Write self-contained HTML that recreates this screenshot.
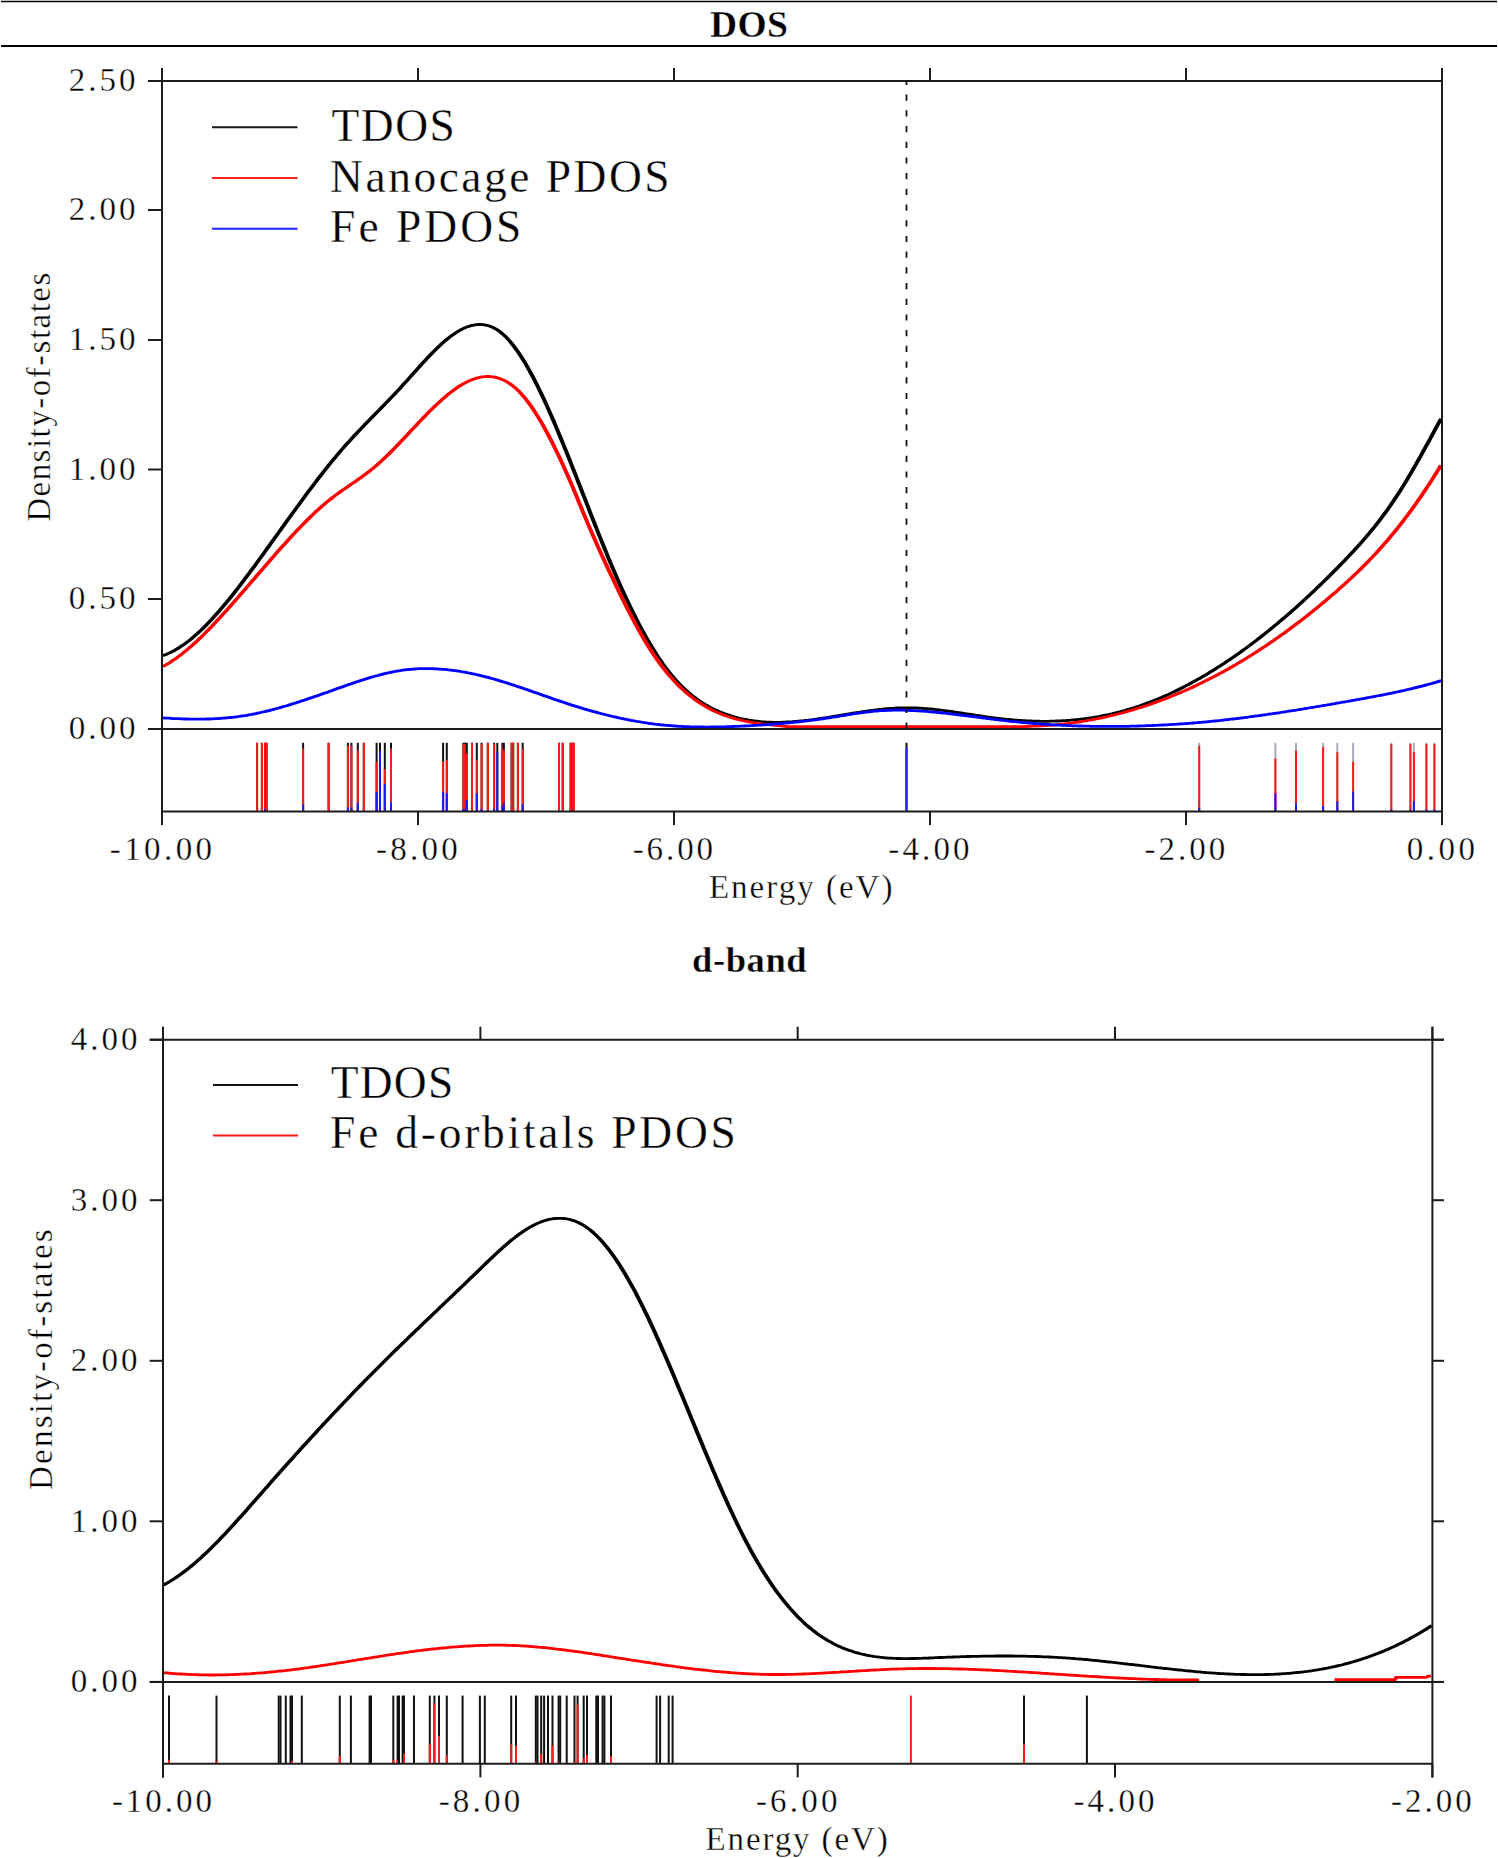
<!DOCTYPE html>
<html><head><meta charset="utf-8"><style>
html,body{margin:0;padding:0;background:#fff;}
body{width:1498px;height:1858px;position:relative;overflow:hidden;font-family:"Liberation Serif",serif;}
text{font-family:"Liberation Serif",serif;stroke:#fff;stroke-width:0.35px;paint-order:fill;}
</style></head><body>
<svg width="1498" height="1858" viewBox="0 0 1498 1858" style="position:absolute;left:0;top:0" font-family="'Liberation Serif', serif">
<line x1="1.00" y1="1.50" x2="1497.00" y2="1.50" stroke="#000" stroke-width="1.30"/>
<line x1="1.00" y1="46.00" x2="1497.00" y2="46.00" stroke="#000" stroke-width="2.20"/>
<text x="710.10" y="36.80" font-size="37.50" font-weight="bold" letter-spacing="0.275" fill="#000">DOS</text>
<text x="692.10" y="971.70" font-size="36.50" font-weight="bold" letter-spacing="0.581" fill="#000">d-band</text>
<g fill="none" stroke-width="2.80" stroke-linejoin="round" stroke-linecap="butt" transform="scale(1.450,1)">
<path d="M112.21,655.7 L113.59,654.9 L114.97,654.2 L116.34,653.3 L117.72,652.4 L119.10,651.4 L120.48,650.3 L121.86,649.1 L123.24,647.9 L124.62,646.6 L126.00,645.3 L127.38,643.9 L128.76,642.4 L130.14,640.9 L131.52,639.3 L132.90,637.6 L134.28,635.9 L135.66,634.2 L137.03,632.3 L138.41,630.5 L139.79,628.6 L141.17,626.6 L142.55,624.6 L143.93,622.5 L145.31,620.4 L146.69,618.3 L148.07,616.1 L149.45,613.8 L150.83,611.6 L152.21,609.3 L153.59,606.9 L154.97,604.5 L156.34,602.1 L157.72,599.7 L159.10,597.2 L160.48,594.7 L161.86,592.2 L163.24,589.6 L164.62,587.1 L166.00,584.5 L167.38,581.8 L168.76,579.2 L170.14,576.5 L171.52,573.9 L172.90,571.2 L174.28,568.5 L175.66,565.8 L177.03,563.0 L178.41,560.3 L179.79,557.5 L181.17,554.8 L182.55,552.0 L183.93,549.2 L185.31,546.5 L186.69,543.7 L188.07,540.9 L189.45,538.1 L190.83,535.3 L192.21,532.5 L193.59,529.7 L194.97,526.9 L196.34,524.2 L197.72,521.4 L199.10,518.6 L200.48,515.8 L201.86,513.0 L203.24,510.3 L204.62,507.5 L206.00,504.8 L207.38,502.1 L208.76,499.3 L210.14,496.6 L211.52,493.9 L212.90,491.2 L214.28,488.6 L215.66,485.9 L217.03,483.3 L218.41,480.6 L219.79,478.0 L221.17,475.5 L222.55,472.9 L223.93,470.4 L225.31,467.8 L226.69,465.3 L228.07,462.9 L229.45,460.4 L230.83,458.0 L232.21,455.6 L233.59,453.2 L234.97,450.9 L236.34,448.6 L237.72,446.3 L239.10,444.1 L240.48,441.9 L241.86,439.7 L243.24,437.5 L244.62,435.3 L246.00,433.2 L247.38,431.1 L248.76,429.0 L250.14,426.9 L251.52,424.8 L252.90,422.7 L254.28,420.7 L255.66,418.6 L257.03,416.6 L258.41,414.5 L259.79,412.5 L261.17,410.5 L262.55,408.4 L263.93,406.4 L265.31,404.3 L266.69,402.3 L268.07,400.2 L269.45,398.1 L270.83,396.0 L272.21,393.9 L273.59,391.8 L274.97,389.7 L276.34,387.5 L277.72,385.3 L279.10,383.1 L280.48,380.9 L281.86,378.7 L283.24,376.4 L284.62,374.2 L286.00,372.0 L287.38,369.7 L288.76,367.5 L290.14,365.3 L291.52,363.1 L292.90,360.9 L294.28,358.8 L295.66,356.6 L297.03,354.6 L298.41,352.5 L299.79,350.5 L301.17,348.5 L302.55,346.6 L303.93,344.7 L305.31,342.9 L306.69,341.2 L308.07,339.5 L309.45,337.9 L310.83,336.3 L312.21,334.9 L313.59,333.5 L314.97,332.2 L316.34,331.0 L317.72,329.9 L319.10,328.8 L320.48,327.9 L321.86,327.1 L323.24,326.4 L324.62,325.7 L326.00,325.3 L327.38,324.9 L328.76,324.6 L330.14,324.5 L331.52,324.5 L332.90,324.6 L334.28,324.9 L335.66,325.3 L337.03,325.8 L338.41,326.5 L339.79,327.4 L341.17,328.4 L342.55,329.5 L343.93,330.8 L345.31,332.3 L346.69,334.0 L348.07,335.8 L349.45,337.8 L350.83,339.9 L352.21,342.2 L353.59,344.7 L354.97,347.3 L356.34,350.0 L357.72,352.9 L359.10,355.9 L360.48,359.1 L361.86,362.3 L363.24,365.7 L364.62,369.2 L366.00,372.9 L367.38,376.6 L368.76,380.4 L370.14,384.4 L371.52,388.4 L372.90,392.5 L374.28,396.7 L375.66,401.0 L377.03,405.4 L378.41,409.9 L379.79,414.4 L381.17,419.0 L382.55,423.6 L383.93,428.4 L385.31,433.1 L386.69,438.0 L388.07,442.8 L389.45,447.8 L390.83,452.7 L392.21,457.7 L393.59,462.7 L394.97,467.8 L396.34,472.9 L397.72,478.0 L399.10,483.1 L400.48,488.2 L401.86,493.3 L403.24,498.4 L404.62,503.5 L406.00,508.7 L407.38,513.8 L408.76,518.9 L410.14,523.9 L411.52,529.0 L412.90,534.0 L414.28,539.0 L415.66,543.9 L417.03,548.9 L418.41,553.7 L419.79,558.6 L421.17,563.3 L422.55,568.1 L423.93,572.7 L425.31,577.3 L426.69,581.9 L428.07,586.3 L429.45,590.8 L430.83,595.1 L432.21,599.4 L433.59,603.6 L434.97,607.7 L436.34,611.8 L437.72,615.8 L439.10,619.7 L440.48,623.6 L441.86,627.4 L443.24,631.1 L444.62,634.7 L446.00,638.2 L447.38,641.7 L448.76,645.1 L450.14,648.4 L451.52,651.6 L452.90,654.7 L454.28,657.8 L455.66,660.7 L457.03,663.6 L458.41,666.3 L459.79,669.0 L461.17,671.6 L462.55,674.1 L463.93,676.5 L465.31,678.8 L466.69,681.1 L468.07,683.2 L469.45,685.3 L470.83,687.2 L472.21,689.1 L473.59,691.0 L474.97,692.7 L476.34,694.4 L477.72,696.0 L479.10,697.5 L480.48,699.0 L481.86,700.4 L483.24,701.8 L484.62,703.0 L486.00,704.3 L487.38,705.4 L488.76,706.5 L490.14,707.6 L491.52,708.6 L492.90,709.6 L494.28,710.5 L495.66,711.4 L497.03,712.2 L498.41,713.0 L499.79,713.7 L501.17,714.4 L502.55,715.1 L503.93,715.8 L505.31,716.4 L506.69,717.0 L508.07,717.5 L509.45,718.0 L510.83,718.5 L512.21,718.9 L513.59,719.3 L514.97,719.7 L516.34,720.1 L517.72,720.4 L519.10,720.7 L520.48,721.0 L521.86,721.2 L523.24,721.4 L524.62,721.6 L526.00,721.8 L527.38,721.9 L528.76,722.1 L530.14,722.1 L531.52,722.2 L532.90,722.3 L534.28,722.3 L535.66,722.3 L537.03,722.3 L538.41,722.3 L539.79,722.2 L541.17,722.1 L542.55,722.0 L543.93,721.9 L545.31,721.8 L546.69,721.7 L548.07,721.5 L549.45,721.4 L550.83,721.2 L552.21,721.0 L553.59,720.8 L554.97,720.5 L556.34,720.3 L557.72,720.1 L559.10,719.8 L560.48,719.6 L561.86,719.3 L563.24,719.0 L564.62,718.7 L566.00,718.4 L567.38,718.1 L568.76,717.8 L570.14,717.5 L571.52,717.2 L572.90,716.9 L574.28,716.5 L575.66,716.2 L577.03,715.9 L578.41,715.5 L579.79,715.2 L581.17,714.9 L582.55,714.5 L583.93,714.2 L585.31,713.9 L586.69,713.5 L588.07,713.2 L589.45,712.9 L590.83,712.6 L592.21,712.3 L593.59,712.0 L594.97,711.7 L596.34,711.4 L597.72,711.1 L599.10,710.8 L600.48,710.5 L601.86,710.3 L603.24,710.0 L604.62,709.8 L606.00,709.5 L607.38,709.3 L608.76,709.1 L610.14,708.9 L611.52,708.7 L612.90,708.6 L614.28,708.4 L615.66,708.3 L617.03,708.1 L618.41,708.0 L619.79,708.0 L621.17,707.9 L622.55,707.8 L623.93,707.8 L625.31,707.8 L626.69,707.8 L628.07,707.8 L629.45,707.9 L630.83,707.9 L632.21,708.0 L633.59,708.1 L634.97,708.2 L636.34,708.3 L637.72,708.5 L639.10,708.6 L640.48,708.8 L641.86,709.0 L643.24,709.2 L644.62,709.4 L646.00,709.6 L647.38,709.8 L648.76,710.1 L650.14,710.3 L651.52,710.6 L652.90,710.8 L654.28,711.1 L655.66,711.4 L657.03,711.7 L658.41,712.0 L659.79,712.3 L661.17,712.6 L662.55,712.9 L663.93,713.2 L665.31,713.5 L666.69,713.8 L668.07,714.1 L669.45,714.4 L670.83,714.7 L672.21,715.0 L673.59,715.3 L674.97,715.6 L676.34,715.9 L677.72,716.2 L679.10,716.5 L680.48,716.8 L681.86,717.1 L683.24,717.4 L684.62,717.6 L686.00,717.9 L687.38,718.2 L688.76,718.4 L690.14,718.7 L691.52,718.9 L692.90,719.1 L694.28,719.3 L695.66,719.5 L697.03,719.7 L698.41,719.9 L699.79,720.1 L701.17,720.2 L702.55,720.4 L703.93,720.5 L705.31,720.6 L706.69,720.7 L708.07,720.8 L709.45,720.9 L710.83,721.0 L712.21,721.1 L713.59,721.2 L714.97,721.2 L716.34,721.2 L717.72,721.3 L719.10,721.3 L720.48,721.3 L721.86,721.3 L723.24,721.3 L724.62,721.2 L726.00,721.2 L727.38,721.1 L728.76,721.0 L730.14,721.0 L731.52,720.9 L732.90,720.7 L734.28,720.6 L735.66,720.5 L737.03,720.3 L738.41,720.2 L739.79,720.0 L741.17,719.8 L742.55,719.6 L743.93,719.4 L745.31,719.2 L746.69,718.9 L748.07,718.7 L749.45,718.4 L750.83,718.1 L752.21,717.8 L753.59,717.5 L754.97,717.2 L756.34,716.8 L757.72,716.5 L759.10,716.1 L760.48,715.7 L761.86,715.3 L763.24,714.9 L764.62,714.5 L766.00,714.0 L767.38,713.6 L768.76,713.1 L770.14,712.6 L771.52,712.1 L772.90,711.6 L774.28,711.0 L775.66,710.5 L777.03,709.9 L778.41,709.3 L779.79,708.7 L781.17,708.1 L782.55,707.5 L783.93,706.8 L785.31,706.2 L786.69,705.5 L788.07,704.8 L789.45,704.1 L790.83,703.3 L792.21,702.6 L793.59,701.8 L794.97,701.0 L796.34,700.2 L797.72,699.4 L799.10,698.6 L800.48,697.8 L801.86,696.9 L803.24,696.0 L804.62,695.2 L806.00,694.3 L807.38,693.3 L808.76,692.4 L810.14,691.5 L811.52,690.5 L812.90,689.5 L814.28,688.5 L815.66,687.5 L817.03,686.5 L818.41,685.4 L819.79,684.4 L821.17,683.3 L822.55,682.2 L823.93,681.1 L825.31,680.0 L826.69,678.9 L828.07,677.8 L829.45,676.6 L830.83,675.4 L832.21,674.3 L833.59,673.1 L834.97,671.8 L836.34,670.6 L837.72,669.4 L839.10,668.1 L840.48,666.8 L841.86,665.6 L843.24,664.3 L844.62,663.0 L846.00,661.6 L847.38,660.3 L848.76,658.9 L850.14,657.6 L851.52,656.2 L852.90,654.8 L854.28,653.4 L855.66,652.0 L857.03,650.5 L858.41,649.1 L859.79,647.6 L861.17,646.1 L862.55,644.6 L863.93,643.1 L865.31,641.6 L866.69,640.1 L868.07,638.5 L869.45,637.0 L870.83,635.4 L872.21,633.8 L873.59,632.2 L874.97,630.6 L876.34,629.0 L877.72,627.4 L879.10,625.7 L880.48,624.1 L881.86,622.4 L883.24,620.7 L884.62,619.0 L886.00,617.3 L887.38,615.6 L888.76,613.9 L890.14,612.1 L891.52,610.3 L892.90,608.6 L894.28,606.8 L895.66,605.0 L897.03,603.2 L898.41,601.4 L899.79,599.5 L901.17,597.7 L902.55,595.8 L903.93,594.0 L905.31,592.1 L906.69,590.2 L908.07,588.3 L909.45,586.4 L910.83,584.4 L912.21,582.5 L913.59,580.5 L914.97,578.6 L916.34,576.6 L917.72,574.6 L919.10,572.6 L920.48,570.6 L921.86,568.6 L923.24,566.6 L924.62,564.5 L926.00,562.5 L927.38,560.4 L928.76,558.3 L930.14,556.2 L931.52,554.1 L932.90,552.0 L934.28,549.8 L935.66,547.6 L937.03,545.4 L938.41,543.2 L939.79,540.9 L941.17,538.6 L942.55,536.3 L943.93,533.9 L945.31,531.5 L946.69,529.0 L948.07,526.6 L949.45,524.0 L950.83,521.5 L952.21,518.9 L953.59,516.2 L954.97,513.5 L956.34,510.8 L957.72,508.0 L959.10,505.1 L960.48,502.2 L961.86,499.2 L963.24,496.2 L964.62,493.1 L966.00,490.0 L967.38,486.8 L968.76,483.5 L970.14,480.2 L971.52,476.8 L972.90,473.5 L974.28,470.0 L975.66,466.5 L977.03,463.0 L978.41,459.5 L979.79,455.9 L981.17,452.3 L982.55,448.7 L983.93,445.0 L985.31,441.4 L986.69,437.7 L988.07,434.0 L989.45,430.3 L990.83,426.6 L992.21,422.9 L993.59,419.2 L993.79,418.6" stroke="#000"/>
<path d="M112.21,666.6 L113.59,665.5 L114.97,664.4 L116.34,663.2 L117.72,661.9 L119.10,660.6 L120.48,659.3 L121.86,657.9 L123.24,656.4 L124.62,654.9 L126.00,653.3 L127.38,651.7 L128.76,650.1 L130.14,648.4 L131.52,646.7 L132.90,644.9 L134.28,643.1 L135.66,641.3 L137.03,639.4 L138.41,637.5 L139.79,635.5 L141.17,633.5 L142.55,631.5 L143.93,629.5 L145.31,627.4 L146.69,625.3 L148.07,623.2 L149.45,621.1 L150.83,618.9 L152.21,616.8 L153.59,614.6 L154.97,612.4 L156.34,610.2 L157.72,607.9 L159.10,605.7 L160.48,603.4 L161.86,601.2 L163.24,598.9 L164.62,596.6 L166.00,594.3 L167.38,592.0 L168.76,589.7 L170.14,587.4 L171.52,585.1 L172.90,582.8 L174.28,580.5 L175.66,578.2 L177.03,575.8 L178.41,573.5 L179.79,571.2 L181.17,568.9 L182.55,566.6 L183.93,564.3 L185.31,562.0 L186.69,559.7 L188.07,557.4 L189.45,555.1 L190.83,552.8 L192.21,550.6 L193.59,548.3 L194.97,546.1 L196.34,543.9 L197.72,541.7 L199.10,539.5 L200.48,537.3 L201.86,535.1 L203.24,533.0 L204.62,530.8 L206.00,528.7 L207.38,526.7 L208.76,524.6 L210.14,522.6 L211.52,520.6 L212.90,518.6 L214.28,516.6 L215.66,514.7 L217.03,512.8 L218.41,510.9 L219.79,509.1 L221.17,507.3 L222.55,505.6 L223.93,503.9 L225.31,502.2 L226.69,500.6 L228.07,499.0 L229.45,497.4 L230.83,495.9 L232.21,494.4 L233.59,493.0 L234.97,491.5 L236.34,490.1 L237.72,488.7 L239.10,487.4 L240.48,486.0 L241.86,484.6 L243.24,483.3 L244.62,481.9 L246.00,480.5 L247.38,479.1 L248.76,477.7 L250.14,476.3 L251.52,474.8 L252.90,473.3 L254.28,471.8 L255.66,470.2 L257.03,468.6 L258.41,467.0 L259.79,465.2 L261.17,463.5 L262.55,461.7 L263.93,459.8 L265.31,457.9 L266.69,456.0 L268.07,454.1 L269.45,452.1 L270.83,450.1 L272.21,448.0 L273.59,445.9 L274.97,443.9 L276.34,441.8 L277.72,439.7 L279.10,437.5 L280.48,435.4 L281.86,433.3 L283.24,431.1 L284.62,429.0 L286.00,426.9 L287.38,424.7 L288.76,422.6 L290.14,420.5 L291.52,418.4 L292.90,416.4 L294.28,414.3 L295.66,412.3 L297.03,410.3 L298.41,408.3 L299.79,406.4 L301.17,404.5 L302.55,402.6 L303.93,400.8 L305.31,399.0 L306.69,397.3 L308.07,395.6 L309.45,393.9 L310.83,392.4 L312.21,390.8 L313.59,389.4 L314.97,388.0 L316.34,386.6 L317.72,385.4 L319.10,384.2 L320.48,383.1 L321.86,382.0 L323.24,381.1 L324.62,380.2 L326.00,379.4 L327.38,378.7 L328.76,378.1 L330.14,377.6 L331.52,377.2 L332.90,376.8 L334.28,376.6 L335.66,376.5 L337.03,376.5 L338.41,376.6 L339.79,376.8 L341.17,377.1 L342.55,377.6 L343.93,378.2 L345.31,378.9 L346.69,379.7 L348.07,380.6 L349.45,381.7 L350.83,382.9 L352.21,384.3 L353.59,385.8 L354.97,387.4 L356.34,389.2 L357.72,391.1 L359.10,393.2 L360.48,395.4 L361.86,397.8 L363.24,400.3 L364.62,402.9 L366.00,405.7 L367.38,408.6 L368.76,411.6 L370.14,414.7 L371.52,418.0 L372.90,421.3 L374.28,424.8 L375.66,428.4 L377.03,432.0 L378.41,435.8 L379.79,439.6 L381.17,443.5 L382.55,447.6 L383.93,451.6 L385.31,455.8 L386.69,460.1 L388.07,464.4 L389.45,468.8 L390.83,473.3 L392.21,477.8 L393.59,482.4 L394.97,487.1 L396.34,491.9 L397.72,496.7 L399.10,501.6 L400.48,506.4 L401.86,511.3 L403.24,516.1 L404.62,520.9 L406.00,525.6 L407.38,530.2 L408.76,534.9 L410.14,539.4 L411.52,543.9 L412.90,548.4 L414.28,552.8 L415.66,557.2 L417.03,561.5 L418.41,565.8 L419.79,570.1 L421.17,574.3 L422.55,578.5 L423.93,582.7 L425.31,586.9 L426.69,591.0 L428.07,595.1 L429.45,599.2 L430.83,603.2 L432.21,607.2 L433.59,611.1 L434.97,615.0 L436.34,618.8 L437.72,622.6 L439.10,626.3 L440.48,629.9 L441.86,633.5 L443.24,636.9 L444.62,640.4 L446.00,643.7 L447.38,647.0 L448.76,650.1 L450.14,653.2 L451.52,656.2 L452.90,659.1 L454.28,661.9 L455.66,664.6 L457.03,667.3 L458.41,669.8 L459.79,672.3 L461.17,674.7 L462.55,677.1 L463.93,679.3 L465.31,681.5 L466.69,683.6 L468.07,685.6 L469.45,687.6 L470.83,689.4 L472.21,691.3 L473.59,693.0 L474.97,694.7 L476.34,696.3 L477.72,697.9 L479.10,699.4 L480.48,700.8 L481.86,702.2 L483.24,703.5 L484.62,704.8 L486.00,706.0 L487.38,707.1 L488.76,708.2 L490.14,709.3 L491.52,710.3 L492.90,711.3 L494.28,712.2 L495.66,713.1 L497.03,713.9 L498.41,714.7 L499.79,715.4 L501.17,716.1 L502.55,716.8 L503.93,717.4 L505.31,718.0 L506.69,718.6 L508.07,719.2 L509.45,719.7 L510.83,720.1 L512.21,720.6 L513.59,721.0 L514.97,721.4 L516.34,721.8 L517.72,722.2 L519.10,722.5 L520.48,722.8 L521.86,723.1 L523.24,723.4 L524.62,723.7 L526.00,723.9 L527.38,724.2 L528.76,724.4 L530.14,724.7 L531.52,724.9 L532.90,725.1 L534.28,725.3 L535.66,725.5 L537.03,725.7 L538.41,725.9 L539.79,726.1 L541.17,726.3 L542.55,726.5 L544.83,726.7 L550.34,726.7 L555.86,726.7 L561.38,726.7 L566.90,726.7 L572.41,726.7 L577.93,726.7 L583.45,726.7 L588.97,726.7 L594.48,726.7 L600.00,726.7 L605.52,726.7 L611.03,726.7 L616.55,726.7 L622.07,726.7 L627.59,726.7 L633.10,726.7 L638.62,726.7 L644.14,726.7 L649.66,726.7 L655.17,726.7 L660.69,726.7 L666.21,726.7 L671.72,726.7 L677.24,726.7 L682.76,726.7 L688.28,726.7 L693.79,726.7 L699.31,726.7 L704.83,726.7 L710.34,726.3 L711.72,726.2 L713.10,726.2 L714.48,726.1 L715.86,726.0 L717.24,725.9 L718.62,725.8 L720.00,725.7 L721.38,725.6 L722.76,725.4 L724.14,725.3 L725.52,725.1 L726.90,725.0 L728.28,724.8 L729.66,724.6 L731.03,724.4 L732.41,724.2 L733.79,724.0 L735.17,723.8 L736.55,723.5 L737.93,723.3 L739.31,723.0 L740.69,722.7 L742.07,722.4 L743.45,722.2 L744.83,721.8 L746.21,721.5 L747.59,721.2 L748.97,720.9 L750.34,720.5 L751.72,720.2 L753.10,719.8 L754.48,719.4 L755.86,719.0 L757.24,718.6 L758.62,718.2 L760.00,717.8 L761.38,717.4 L762.76,716.9 L764.14,716.5 L765.52,716.0 L766.90,715.5 L768.28,715.0 L769.66,714.5 L771.03,714.0 L772.41,713.5 L773.79,713.0 L775.17,712.4 L776.55,711.9 L777.93,711.3 L779.31,710.7 L780.69,710.1 L782.07,709.6 L783.45,708.9 L784.83,708.3 L786.21,707.7 L787.59,707.1 L788.97,706.4 L790.34,705.7 L791.72,705.1 L793.10,704.4 L794.48,703.7 L795.86,703.0 L797.24,702.3 L798.62,701.5 L800.00,700.8 L801.38,700.0 L802.76,699.3 L804.14,698.5 L805.52,697.7 L806.90,696.9 L808.28,696.1 L809.66,695.3 L811.03,694.5 L812.41,693.6 L813.79,692.8 L815.17,691.9 L816.55,691.1 L817.93,690.2 L819.31,689.3 L820.69,688.4 L822.07,687.5 L823.45,686.5 L824.83,685.6 L826.21,684.7 L827.59,683.7 L828.97,682.7 L830.34,681.7 L831.72,680.7 L833.10,679.7 L834.48,678.7 L835.86,677.7 L837.24,676.7 L838.62,675.6 L840.00,674.5 L841.38,673.5 L842.76,672.4 L844.14,671.3 L845.52,670.2 L846.90,669.1 L848.28,667.9 L849.66,666.8 L851.03,665.6 L852.41,664.5 L853.79,663.3 L855.17,662.1 L856.55,660.9 L857.93,659.7 L859.31,658.5 L860.69,657.3 L862.07,656.0 L863.45,654.8 L864.83,653.5 L866.21,652.2 L867.59,650.9 L868.97,649.6 L870.34,648.3 L871.72,647.0 L873.10,645.7 L874.48,644.3 L875.86,643.0 L877.24,641.6 L878.62,640.2 L880.00,638.8 L881.38,637.4 L882.76,636.0 L884.14,634.6 L885.52,633.2 L886.90,631.7 L888.28,630.2 L889.66,628.8 L891.03,627.3 L892.41,625.8 L893.79,624.3 L895.17,622.8 L896.55,621.3 L897.93,619.7 L899.31,618.2 L900.69,616.6 L902.07,615.0 L903.45,613.4 L904.83,611.8 L906.21,610.2 L907.59,608.6 L908.97,607.0 L910.34,605.3 L911.72,603.7 L913.10,602.0 L914.48,600.3 L915.86,598.6 L917.24,596.9 L918.62,595.2 L920.00,593.5 L921.38,591.8 L922.76,590.0 L924.14,588.2 L925.52,586.5 L926.90,584.7 L928.28,582.8 L929.66,581.0 L931.03,579.2 L932.41,577.3 L933.79,575.4 L935.17,573.5 L936.55,571.6 L937.93,569.6 L939.31,567.6 L940.69,565.6 L942.07,563.6 L943.45,561.6 L944.83,559.5 L946.21,557.4 L947.59,555.3 L948.97,553.2 L950.34,551.0 L951.72,548.8 L953.10,546.5 L954.48,544.3 L955.86,542.0 L957.24,539.7 L958.62,537.3 L960.00,534.9 L961.38,532.5 L962.76,530.0 L964.14,527.6 L965.52,525.0 L966.90,522.5 L968.28,519.9 L969.66,517.2 L971.03,514.6 L972.41,511.8 L973.79,509.1 L975.17,506.3 L976.55,503.5 L977.93,500.6 L979.31,497.8 L980.69,494.8 L982.07,491.9 L983.45,488.9 L984.83,485.8 L986.21,482.8 L987.59,479.7 L988.97,476.5 L990.34,473.4 L991.72,470.2 L993.10,466.9 L993.79,465.3" stroke="#ff0000"/>
<path d="M112.28,717.8 L113.66,718.0 L115.03,718.1 L116.41,718.2 L117.79,718.3 L119.17,718.5 L120.55,718.6 L121.93,718.7 L123.31,718.7 L124.69,718.8 L126.07,718.9 L127.45,719.0 L128.83,719.0 L130.21,719.1 L131.59,719.1 L132.97,719.1 L134.34,719.1 L135.72,719.2 L137.10,719.2 L138.48,719.1 L139.86,719.1 L141.24,719.1 L142.62,719.0 L144.00,719.0 L145.38,718.9 L146.76,718.8 L148.14,718.7 L149.52,718.6 L150.90,718.5 L152.28,718.4 L153.66,718.2 L155.03,718.0 L156.41,717.9 L157.79,717.7 L159.17,717.5 L160.55,717.3 L161.93,717.0 L163.31,716.8 L164.69,716.5 L166.07,716.2 L167.45,715.9 L168.83,715.6 L170.21,715.3 L171.59,714.9 L172.97,714.5 L174.34,714.2 L175.72,713.8 L177.10,713.4 L178.48,712.9 L179.86,712.5 L181.24,712.0 L182.62,711.6 L184.00,711.1 L185.38,710.6 L186.76,710.1 L188.14,709.6 L189.52,709.0 L190.90,708.5 L192.28,708.0 L193.66,707.4 L195.03,706.8 L196.41,706.2 L197.79,705.7 L199.17,705.1 L200.55,704.4 L201.93,703.8 L203.31,703.2 L204.69,702.6 L206.07,701.9 L207.45,701.3 L208.83,700.6 L210.21,700.0 L211.59,699.3 L212.97,698.6 L214.34,697.9 L215.72,697.3 L217.10,696.6 L218.48,695.9 L219.86,695.2 L221.24,694.5 L222.62,693.8 L224.00,693.1 L225.38,692.4 L226.76,691.7 L228.14,690.9 L229.52,690.2 L230.90,689.5 L232.28,688.8 L233.66,688.1 L235.03,687.4 L236.41,686.7 L237.79,686.0 L239.17,685.3 L240.55,684.6 L241.93,683.9 L243.31,683.2 L244.69,682.5 L246.07,681.8 L247.45,681.2 L248.83,680.5 L250.21,679.9 L251.59,679.2 L252.97,678.6 L254.34,678.0 L255.72,677.4 L257.10,676.8 L258.48,676.3 L259.86,675.7 L261.24,675.2 L262.62,674.6 L264.00,674.1 L265.38,673.6 L266.76,673.2 L268.14,672.7 L269.52,672.3 L270.90,671.9 L272.28,671.5 L273.66,671.1 L275.03,670.8 L276.41,670.5 L277.79,670.2 L279.17,669.9 L280.55,669.7 L281.93,669.5 L283.31,669.3 L284.69,669.1 L286.07,669.0 L287.45,668.8 L288.83,668.7 L290.21,668.7 L291.59,668.6 L292.97,668.6 L294.34,668.6 L295.72,668.6 L297.10,668.6 L298.48,668.7 L299.86,668.8 L301.24,668.8 L302.62,669.0 L304.00,669.1 L305.38,669.3 L306.76,669.4 L308.14,669.6 L309.52,669.9 L310.90,670.1 L312.28,670.3 L313.66,670.6 L315.03,670.9 L316.41,671.2 L317.79,671.5 L319.17,671.9 L320.55,672.2 L321.93,672.6 L323.31,673.0 L324.69,673.4 L326.07,673.8 L327.45,674.2 L328.83,674.7 L330.21,675.1 L331.59,675.6 L332.97,676.1 L334.34,676.6 L335.72,677.1 L337.10,677.6 L338.48,678.2 L339.86,678.7 L341.24,679.3 L342.62,679.9 L344.00,680.5 L345.38,681.1 L346.76,681.7 L348.14,682.3 L349.52,682.9 L350.90,683.6 L352.28,684.2 L353.66,684.9 L355.03,685.5 L356.41,686.2 L357.79,686.9 L359.17,687.5 L360.55,688.2 L361.93,688.9 L363.31,689.6 L364.69,690.3 L366.07,691.0 L367.45,691.7 L368.83,692.4 L370.21,693.1 L371.59,693.8 L372.97,694.5 L374.34,695.2 L375.72,695.9 L377.10,696.6 L378.48,697.3 L379.86,698.0 L381.24,698.7 L382.62,699.4 L384.00,700.1 L385.38,700.8 L386.76,701.4 L388.14,702.1 L389.52,702.8 L390.90,703.4 L392.28,704.1 L393.66,704.7 L395.03,705.4 L396.41,706.0 L397.79,706.6 L399.17,707.3 L400.55,707.9 L401.93,708.5 L403.31,709.1 L404.69,709.6 L406.07,710.2 L407.45,710.8 L408.83,711.4 L410.21,711.9 L411.59,712.4 L412.97,713.0 L414.34,713.5 L415.72,714.0 L417.10,714.5 L418.48,715.0 L419.86,715.5 L421.24,716.0 L422.62,716.5 L424.00,716.9 L425.38,717.4 L426.76,717.8 L428.14,718.3 L429.52,718.7 L430.90,719.1 L432.28,719.5 L433.66,719.9 L435.03,720.3 L436.41,720.6 L437.79,721.0 L439.17,721.4 L440.55,721.7 L441.93,722.0 L443.31,722.4 L444.69,722.7 L446.07,723.0 L447.45,723.3 L448.83,723.5 L450.21,723.8 L451.59,724.1 L452.97,724.3 L454.34,724.5 L455.72,724.8 L457.10,725.0 L458.48,725.2 L459.86,725.4 L461.24,725.5 L462.62,725.7 L464.00,725.9 L465.38,726.0 L466.76,726.1 L468.14,726.3 L469.52,726.4 L470.90,726.5 L472.28,726.6 L473.66,726.7 L475.03,726.7 L476.41,726.8 L477.79,726.9 L479.17,726.9 L480.55,727.0 L481.93,727.0 L483.31,727.0 L484.69,727.0 L486.07,727.1 L487.45,727.1 L488.83,727.1 L490.21,727.0 L491.59,727.0 L492.97,727.0 L494.34,727.0 L495.72,726.9 L497.10,726.9 L498.48,726.8 L499.86,726.8 L501.24,726.7 L502.62,726.7 L504.00,726.6 L505.38,726.5 L506.76,726.4 L508.14,726.3 L509.52,726.3 L510.90,726.2 L512.28,726.1 L513.66,726.0 L515.03,725.9 L516.41,725.8 L517.79,725.6 L519.17,725.5 L520.55,725.4 L521.93,725.3 L523.31,725.2 L524.69,725.0 L526.07,724.9 L527.45,724.8 L528.83,724.6 L530.21,724.5 L531.59,724.4 L532.97,724.2 L534.34,724.0 L535.72,723.9 L537.10,723.7 L538.48,723.6 L539.86,723.4 L541.24,723.2 L542.62,723.0 L544.00,722.8 L545.38,722.6 L546.76,722.5 L548.14,722.2 L549.52,722.0 L550.90,721.8 L552.28,721.6 L553.66,721.4 L555.03,721.2 L556.41,720.9 L557.79,720.7 L559.17,720.4 L560.55,720.2 L561.93,719.9 L563.31,719.6 L564.69,719.4 L566.07,719.1 L567.45,718.8 L568.83,718.5 L570.21,718.2 L571.59,717.9 L572.97,717.6 L574.34,717.2 L575.72,716.9 L577.10,716.6 L578.48,716.3 L579.86,715.9 L581.24,715.6 L582.62,715.3 L584.00,714.9 L585.38,714.6 L586.76,714.3 L588.14,714.0 L589.52,713.7 L590.90,713.4 L592.28,713.1 L593.66,712.8 L595.03,712.5 L596.41,712.3 L597.79,712.0 L599.17,711.8 L600.55,711.6 L601.93,711.4 L603.31,711.2 L604.69,711.0 L606.07,710.9 L607.45,710.7 L608.83,710.6 L610.21,710.5 L611.59,710.4 L612.97,710.3 L614.34,710.3 L615.72,710.2 L617.10,710.2 L618.48,710.2 L619.86,710.2 L621.24,710.2 L622.62,710.2 L624.00,710.3 L625.38,710.3 L626.76,710.4 L628.14,710.5 L629.52,710.6 L630.90,710.7 L632.28,710.8 L633.66,710.9 L635.03,711.0 L636.41,711.1 L637.79,711.3 L639.17,711.4 L640.55,711.6 L641.93,711.8 L643.31,712.0 L644.69,712.1 L646.07,712.3 L647.45,712.5 L648.83,712.8 L650.21,713.0 L651.59,713.2 L652.97,713.4 L654.34,713.6 L655.72,713.9 L657.10,714.1 L658.48,714.4 L659.86,714.6 L661.24,714.9 L662.62,715.1 L664.00,715.4 L665.38,715.6 L666.76,715.9 L668.14,716.1 L669.52,716.4 L670.90,716.7 L672.28,716.9 L673.66,717.2 L675.03,717.4 L676.41,717.7 L677.79,718.0 L679.17,718.2 L680.55,718.5 L681.93,718.7 L683.31,719.0 L684.69,719.2 L686.07,719.5 L687.45,719.7 L688.83,720.0 L690.21,720.2 L691.59,720.4 L692.97,720.7 L694.34,720.9 L695.72,721.1 L697.10,721.3 L698.48,721.5 L699.86,721.7 L701.24,721.9 L702.62,722.1 L704.00,722.3 L705.38,722.5 L706.76,722.7 L708.14,722.9 L709.52,723.0 L710.90,723.2 L712.28,723.4 L713.66,723.5 L715.03,723.7 L716.41,723.8 L717.79,724.0 L719.17,724.1 L720.55,724.3 L721.93,724.4 L723.31,724.5 L724.69,724.7 L726.07,724.8 L727.45,724.9 L728.83,725.0 L730.21,725.1 L731.59,725.2 L732.97,725.3 L734.34,725.4 L735.72,725.5 L737.10,725.6 L738.48,725.7 L739.86,725.8 L741.24,725.8 L742.62,725.9 L744.00,726.0 L745.38,726.0 L746.76,726.1 L748.14,726.1 L749.52,726.2 L750.90,726.2 L752.28,726.3 L753.66,726.3 L755.03,726.3 L756.41,726.4 L757.79,726.4 L759.17,726.4 L760.55,726.4 L761.93,726.4 L763.31,726.4 L764.69,726.4 L766.07,726.4 L767.45,726.4 L768.83,726.4 L770.21,726.4 L771.59,726.4 L772.97,726.4 L774.34,726.4 L775.72,726.3 L777.10,726.3 L778.48,726.3 L779.86,726.2 L781.24,726.2 L782.62,726.1 L784.00,726.1 L785.38,726.0 L786.76,725.9 L788.14,725.9 L789.52,725.8 L790.90,725.7 L792.28,725.7 L793.66,725.6 L795.03,725.5 L796.41,725.4 L797.79,725.3 L799.17,725.2 L800.55,725.1 L801.93,725.0 L803.31,724.9 L804.69,724.8 L806.07,724.7 L807.45,724.6 L808.83,724.4 L810.21,724.3 L811.59,724.2 L812.97,724.0 L814.34,723.9 L815.72,723.8 L817.10,723.6 L818.48,723.5 L819.86,723.3 L821.24,723.2 L822.62,723.0 L824.00,722.8 L825.38,722.7 L826.76,722.5 L828.14,722.3 L829.52,722.1 L830.90,722.0 L832.28,721.8 L833.66,721.6 L835.03,721.4 L836.41,721.2 L837.79,721.0 L839.17,720.8 L840.55,720.6 L841.93,720.4 L843.31,720.1 L844.69,719.9 L846.07,719.7 L847.45,719.5 L848.83,719.2 L850.21,719.0 L851.59,718.8 L852.97,718.5 L854.34,718.3 L855.72,718.0 L857.10,717.8 L858.48,717.5 L859.86,717.3 L861.24,717.0 L862.62,716.7 L864.00,716.5 L865.38,716.2 L866.76,715.9 L868.14,715.7 L869.52,715.4 L870.90,715.1 L872.28,714.8 L873.66,714.5 L875.03,714.2 L876.41,714.0 L877.79,713.7 L879.17,713.4 L880.55,713.1 L881.93,712.8 L883.31,712.5 L884.69,712.2 L886.07,711.9 L887.45,711.5 L888.83,711.2 L890.21,710.9 L891.59,710.6 L892.97,710.3 L894.34,710.0 L895.72,709.6 L897.10,709.3 L898.48,709.0 L899.86,708.7 L901.24,708.3 L902.62,708.0 L904.00,707.7 L905.38,707.3 L906.76,707.0 L908.14,706.7 L909.52,706.3 L910.90,706.0 L912.28,705.7 L913.66,705.3 L915.03,705.0 L916.41,704.6 L917.79,704.3 L919.17,703.9 L920.55,703.6 L921.93,703.2 L923.31,702.9 L924.69,702.5 L926.07,702.2 L927.45,701.8 L928.83,701.5 L930.21,701.1 L931.59,700.8 L932.97,700.4 L934.34,700.1 L935.72,699.7 L937.10,699.4 L938.48,699.0 L939.86,698.6 L941.24,698.3 L942.62,697.9 L944.00,697.5 L945.38,697.2 L946.76,696.8 L948.14,696.4 L949.52,696.0 L950.90,695.7 L952.28,695.3 L953.66,694.9 L955.03,694.5 L956.41,694.1 L957.79,693.7 L959.17,693.3 L960.55,692.9 L961.93,692.4 L963.31,692.0 L964.69,691.6 L966.07,691.1 L967.45,690.7 L968.83,690.3 L970.21,689.8 L971.59,689.3 L972.97,688.9 L974.34,688.4 L975.72,687.9 L977.10,687.4 L978.48,686.9 L979.86,686.4 L981.24,685.9 L982.62,685.4 L984.00,684.8 L985.38,684.3 L986.76,683.7 L988.14,683.2 L989.52,682.6 L990.90,682.0 L992.28,681.4 L993.66,680.8 L993.79,680.8" stroke="#0000ff"/>
</g>
<line x1="906.50" y1="81.00" x2="906.50" y2="729.00" stroke="#111" stroke-width="1.80" stroke-dasharray="6.2 9.5" stroke-dashoffset="2.1"/>
<g stroke-width="2">
<line x1="257.10" y1="742.80" x2="257.10" y2="811.20" stroke="#111" stroke-width="2.00"/>
<line x1="257.10" y1="742.80" x2="257.10" y2="811.20" stroke="#ff1a1a" stroke-width="2.00"/>
<line x1="261.90" y1="742.80" x2="261.90" y2="811.20" stroke="#111" stroke-width="2.00"/>
<line x1="261.90" y1="742.80" x2="261.90" y2="811.20" stroke="#ff1a1a" stroke-width="2.00"/>
<line x1="265.00" y1="742.80" x2="265.00" y2="811.20" stroke="#111" stroke-width="2.00"/>
<line x1="265.00" y1="742.80" x2="265.00" y2="811.20" stroke="#ff1a1a" stroke-width="2.00"/>
<line x1="265.00" y1="808.70" x2="265.00" y2="811.20" stroke="#1a1aff" stroke-width="2.00"/>
<line x1="266.60" y1="742.80" x2="266.60" y2="811.20" stroke="#111" stroke-width="2.00"/>
<line x1="266.60" y1="742.80" x2="266.60" y2="811.20" stroke="#ff1a1a" stroke-width="2.00"/>
<line x1="303.10" y1="742.80" x2="303.10" y2="811.20" stroke="#111" stroke-width="2.00"/>
<line x1="303.10" y1="748.60" x2="303.10" y2="811.20" stroke="#ff1a1a" stroke-width="2.00"/>
<line x1="303.10" y1="804.50" x2="303.10" y2="811.20" stroke="#1a1aff" stroke-width="2.00"/>
<line x1="328.60" y1="742.80" x2="328.60" y2="811.20" stroke="#111" stroke-width="2.00"/>
<line x1="328.60" y1="742.80" x2="328.60" y2="811.20" stroke="#ff1a1a" stroke-width="2.00"/>
<line x1="347.90" y1="742.80" x2="347.90" y2="811.20" stroke="#111" stroke-width="2.00"/>
<line x1="347.90" y1="745.60" x2="347.90" y2="811.20" stroke="#ff1a1a" stroke-width="2.00"/>
<line x1="347.90" y1="807.50" x2="347.90" y2="811.20" stroke="#1a1aff" stroke-width="2.00"/>
<line x1="351.40" y1="742.80" x2="351.40" y2="811.20" stroke="#111" stroke-width="2.00"/>
<line x1="351.40" y1="745.60" x2="351.40" y2="811.20" stroke="#ff1a1a" stroke-width="2.00"/>
<line x1="351.40" y1="807.50" x2="351.40" y2="811.20" stroke="#1a1aff" stroke-width="2.00"/>
<line x1="357.80" y1="742.80" x2="357.80" y2="811.20" stroke="#111" stroke-width="2.00"/>
<line x1="357.80" y1="750.40" x2="357.80" y2="811.20" stroke="#ff1a1a" stroke-width="2.00"/>
<line x1="357.80" y1="802.70" x2="357.80" y2="811.20" stroke="#1a1aff" stroke-width="2.00"/>
<line x1="363.80" y1="742.80" x2="363.80" y2="811.20" stroke="#111" stroke-width="2.00"/>
<line x1="363.80" y1="742.80" x2="363.80" y2="811.20" stroke="#ff1a1a" stroke-width="2.00"/>
<line x1="376.60" y1="742.80" x2="376.60" y2="811.20" stroke="#111" stroke-width="2.00"/>
<line x1="376.60" y1="761.80" x2="376.60" y2="811.20" stroke="#ff1a1a" stroke-width="2.00"/>
<line x1="376.60" y1="791.90" x2="376.60" y2="811.20" stroke="#1a1aff" stroke-width="2.00"/>
<line x1="380.00" y1="742.80" x2="380.00" y2="811.20" stroke="#111" stroke-width="2.00"/>
<line x1="380.00" y1="750.40" x2="380.00" y2="811.20" stroke="#1a1aff" stroke-width="2.00"/>
<line x1="384.80" y1="742.80" x2="384.80" y2="811.20" stroke="#111" stroke-width="2.00"/>
<line x1="384.80" y1="769.10" x2="384.80" y2="811.20" stroke="#ff1a1a" stroke-width="2.00"/>
<line x1="384.80" y1="784.10" x2="384.80" y2="811.20" stroke="#1a1aff" stroke-width="2.00"/>
<line x1="391.00" y1="742.80" x2="391.00" y2="811.20" stroke="#111" stroke-width="2.00"/>
<line x1="391.00" y1="748.60" x2="391.00" y2="811.20" stroke="#ff1a1a" stroke-width="2.00"/>
<line x1="391.00" y1="802.70" x2="391.00" y2="811.20" stroke="#1a1aff" stroke-width="2.00"/>
<line x1="443.10" y1="742.80" x2="443.10" y2="811.20" stroke="#111" stroke-width="2.00"/>
<line x1="443.10" y1="761.50" x2="443.10" y2="811.20" stroke="#ff1a1a" stroke-width="2.00"/>
<line x1="443.10" y1="791.70" x2="443.10" y2="811.20" stroke="#1a1aff" stroke-width="2.00"/>
<line x1="446.80" y1="742.80" x2="446.80" y2="811.20" stroke="#111" stroke-width="2.00"/>
<line x1="446.80" y1="759.90" x2="446.80" y2="811.20" stroke="#ff1a1a" stroke-width="2.00"/>
<line x1="446.80" y1="793.20" x2="446.80" y2="811.20" stroke="#1a1aff" stroke-width="2.00"/>
<line x1="463.40" y1="742.80" x2="463.40" y2="811.20" stroke="#111" stroke-width="2.00"/>
<line x1="463.40" y1="743.90" x2="463.40" y2="811.20" stroke="#ff1a1a" stroke-width="2.00"/>
<line x1="463.40" y1="809.00" x2="463.40" y2="811.20" stroke="#1a1aff" stroke-width="2.00"/>
<line x1="465.00" y1="742.80" x2="465.00" y2="811.20" stroke="#111" stroke-width="2.00"/>
<line x1="465.00" y1="743.90" x2="465.00" y2="811.20" stroke="#ff1a1a" stroke-width="2.00"/>
<line x1="465.00" y1="809.00" x2="465.00" y2="811.20" stroke="#1a1aff" stroke-width="2.00"/>
<line x1="466.80" y1="742.80" x2="466.80" y2="811.20" stroke="#111" stroke-width="2.00"/>
<line x1="466.80" y1="753.50" x2="466.80" y2="811.20" stroke="#ff1a1a" stroke-width="2.00"/>
<line x1="466.80" y1="800.00" x2="466.80" y2="811.20" stroke="#1a1aff" stroke-width="2.00"/>
<line x1="472.00" y1="742.80" x2="472.00" y2="811.20" stroke="#111" stroke-width="2.00"/>
<line x1="472.00" y1="742.80" x2="472.00" y2="811.20" stroke="#ff1a1a" stroke-width="2.00"/>
<line x1="476.80" y1="742.80" x2="476.80" y2="811.20" stroke="#111" stroke-width="2.00"/>
<line x1="476.80" y1="759.90" x2="476.80" y2="811.20" stroke="#ff1a1a" stroke-width="2.00"/>
<line x1="476.80" y1="793.20" x2="476.80" y2="811.20" stroke="#1a1aff" stroke-width="2.00"/>
<line x1="481.60" y1="742.80" x2="481.60" y2="811.20" stroke="#111" stroke-width="2.00"/>
<line x1="481.60" y1="743.90" x2="481.60" y2="811.20" stroke="#ff1a1a" stroke-width="2.00"/>
<line x1="481.60" y1="809.00" x2="481.60" y2="811.20" stroke="#1a1aff" stroke-width="2.00"/>
<line x1="487.80" y1="742.80" x2="487.80" y2="811.20" stroke="#111" stroke-width="2.00"/>
<line x1="487.80" y1="742.80" x2="487.80" y2="811.20" stroke="#ff1a1a" stroke-width="2.00"/>
<line x1="494.10" y1="742.80" x2="494.10" y2="811.20" stroke="#111" stroke-width="2.00"/>
<line x1="494.10" y1="743.90" x2="494.10" y2="811.20" stroke="#ff1a1a" stroke-width="2.00"/>
<line x1="494.10" y1="809.00" x2="494.10" y2="811.20" stroke="#1a1aff" stroke-width="2.00"/>
<line x1="497.30" y1="742.80" x2="497.30" y2="811.20" stroke="#111" stroke-width="2.00"/>
<line x1="497.30" y1="751.90" x2="497.30" y2="811.20" stroke="#1a1aff" stroke-width="2.00"/>
<line x1="502.40" y1="742.80" x2="502.40" y2="811.20" stroke="#111" stroke-width="2.00"/>
<line x1="502.40" y1="747.10" x2="502.40" y2="811.20" stroke="#ff1a1a" stroke-width="2.00"/>
<line x1="502.40" y1="805.80" x2="502.40" y2="811.20" stroke="#1a1aff" stroke-width="2.00"/>
<line x1="503.90" y1="742.80" x2="503.90" y2="811.20" stroke="#111" stroke-width="2.00"/>
<line x1="503.90" y1="750.30" x2="503.90" y2="811.20" stroke="#ff1a1a" stroke-width="2.00"/>
<line x1="503.90" y1="802.60" x2="503.90" y2="811.20" stroke="#1a1aff" stroke-width="2.00"/>
<line x1="511.60" y1="742.80" x2="511.60" y2="811.20" stroke="#111" stroke-width="2.00"/>
<line x1="511.60" y1="742.80" x2="511.60" y2="811.20" stroke="#ff1a1a" stroke-width="2.00"/>
<line x1="513.20" y1="742.80" x2="513.20" y2="811.20" stroke="#111" stroke-width="2.00"/>
<line x1="513.20" y1="742.80" x2="513.20" y2="811.20" stroke="#ff1a1a" stroke-width="2.00"/>
<line x1="517.90" y1="742.80" x2="517.90" y2="811.20" stroke="#111" stroke-width="2.00"/>
<line x1="517.90" y1="742.80" x2="517.90" y2="811.20" stroke="#ff1a1a" stroke-width="2.00"/>
<line x1="522.70" y1="742.80" x2="522.70" y2="811.20" stroke="#111" stroke-width="2.00"/>
<line x1="522.70" y1="749.20" x2="522.70" y2="811.20" stroke="#ff1a1a" stroke-width="2.00"/>
<line x1="522.70" y1="804.20" x2="522.70" y2="811.20" stroke="#1a1aff" stroke-width="2.00"/>
<line x1="559.00" y1="742.80" x2="559.00" y2="811.20" stroke="#111" stroke-width="2.00"/>
<line x1="559.00" y1="742.80" x2="559.00" y2="811.20" stroke="#ff1a1a" stroke-width="2.00"/>
<line x1="562.70" y1="742.80" x2="562.70" y2="811.20" stroke="#111" stroke-width="2.00"/>
<line x1="562.70" y1="742.80" x2="562.70" y2="811.20" stroke="#ff1a1a" stroke-width="2.00"/>
<line x1="570.60" y1="742.80" x2="570.60" y2="811.20" stroke="#111" stroke-width="2.00"/>
<line x1="570.60" y1="742.80" x2="570.60" y2="811.20" stroke="#ff1a1a" stroke-width="2.00"/>
<line x1="572.40" y1="742.80" x2="572.40" y2="811.20" stroke="#111" stroke-width="2.00"/>
<line x1="572.40" y1="742.80" x2="572.40" y2="811.20" stroke="#ff1a1a" stroke-width="2.00"/>
<line x1="574.00" y1="742.80" x2="574.00" y2="811.20" stroke="#111" stroke-width="2.00"/>
<line x1="574.00" y1="742.80" x2="574.00" y2="811.20" stroke="#ff1a1a" stroke-width="2.00"/>
<line x1="906.50" y1="742.80" x2="906.50" y2="811.20" stroke="#111" stroke-width="2.00"/>
<line x1="906.50" y1="747.10" x2="906.50" y2="811.20" stroke="#1a1aff" stroke-width="2.00"/>
<line x1="1199.20" y1="742.80" x2="1199.20" y2="811.20" stroke="#a9abb6" stroke-width="2.00"/>
<line x1="1199.20" y1="745.60" x2="1199.20" y2="811.20" stroke="#ff1a1a" stroke-width="2.00"/>
<line x1="1199.20" y1="807.80" x2="1199.20" y2="811.20" stroke="#1a1aff" stroke-width="2.00"/>
<line x1="1275.40" y1="742.80" x2="1275.40" y2="811.20" stroke="#a9abb6" stroke-width="2.00"/>
<line x1="1275.40" y1="758.60" x2="1275.40" y2="811.20" stroke="#ff1a1a" stroke-width="2.00"/>
<line x1="1275.40" y1="793.30" x2="1275.40" y2="811.20" stroke="#1a1aff" stroke-width="2.00"/>
<line x1="1296.00" y1="742.80" x2="1296.00" y2="811.20" stroke="#a9abb6" stroke-width="2.00"/>
<line x1="1296.00" y1="750.50" x2="1296.00" y2="811.20" stroke="#ff1a1a" stroke-width="2.00"/>
<line x1="1296.00" y1="802.90" x2="1296.00" y2="811.20" stroke="#1a1aff" stroke-width="2.00"/>
<line x1="1323.10" y1="742.80" x2="1323.10" y2="811.20" stroke="#a9abb6" stroke-width="2.00"/>
<line x1="1323.10" y1="747.00" x2="1323.10" y2="811.20" stroke="#ff1a1a" stroke-width="2.00"/>
<line x1="1323.10" y1="806.00" x2="1323.10" y2="811.20" stroke="#1a1aff" stroke-width="2.00"/>
<line x1="1337.30" y1="742.80" x2="1337.30" y2="811.20" stroke="#a9abb6" stroke-width="2.00"/>
<line x1="1337.30" y1="752.20" x2="1337.30" y2="811.20" stroke="#ff1a1a" stroke-width="2.00"/>
<line x1="1337.30" y1="801.20" x2="1337.30" y2="811.20" stroke="#1a1aff" stroke-width="2.00"/>
<line x1="1353.10" y1="742.80" x2="1353.10" y2="811.20" stroke="#a9abb6" stroke-width="2.00"/>
<line x1="1353.10" y1="761.60" x2="1353.10" y2="811.20" stroke="#ff1a1a" stroke-width="2.00"/>
<line x1="1353.10" y1="791.60" x2="1353.10" y2="811.20" stroke="#1a1aff" stroke-width="2.00"/>
<line x1="1391.30" y1="742.80" x2="1391.30" y2="811.20" stroke="#a9abb6" stroke-width="2.00"/>
<line x1="1391.30" y1="744.20" x2="1391.30" y2="811.20" stroke="#ff1a1a" stroke-width="2.00"/>
<line x1="1391.30" y1="809.50" x2="1391.30" y2="811.20" stroke="#1a1aff" stroke-width="2.00"/>
<line x1="1410.40" y1="742.80" x2="1410.40" y2="811.20" stroke="#a9abb6" stroke-width="2.00"/>
<line x1="1410.40" y1="744.20" x2="1410.40" y2="811.20" stroke="#ff1a1a" stroke-width="2.00"/>
<line x1="1410.40" y1="809.50" x2="1410.40" y2="811.20" stroke="#1a1aff" stroke-width="2.00"/>
<line x1="1413.90" y1="742.80" x2="1413.90" y2="811.20" stroke="#a9abb6" stroke-width="2.00"/>
<line x1="1413.90" y1="752.20" x2="1413.90" y2="811.20" stroke="#ff1a1a" stroke-width="2.00"/>
<line x1="1413.90" y1="801.20" x2="1413.90" y2="811.20" stroke="#1a1aff" stroke-width="2.00"/>
<line x1="1426.40" y1="742.80" x2="1426.40" y2="811.20" stroke="#a9abb6" stroke-width="2.00"/>
<line x1="1426.40" y1="743.90" x2="1426.40" y2="811.20" stroke="#ff1a1a" stroke-width="2.00"/>
<line x1="1426.40" y1="809.50" x2="1426.40" y2="811.20" stroke="#1a1aff" stroke-width="2.00"/>
<line x1="1434.40" y1="742.80" x2="1434.40" y2="811.20" stroke="#a9abb6" stroke-width="2.00"/>
<line x1="1434.40" y1="743.90" x2="1434.40" y2="811.20" stroke="#ff1a1a" stroke-width="2.00"/>
<line x1="1434.40" y1="809.50" x2="1434.40" y2="811.20" stroke="#1a1aff" stroke-width="2.00"/>
</g>
<g stroke="#1c1c1c" stroke-width="2">
<line x1="162.00" y1="68.00" x2="162.00" y2="825.00" stroke="#1c1c1c" stroke-width="2.00"/>
<line x1="1442.00" y1="68.00" x2="1442.00" y2="825.00" stroke="#1c1c1c" stroke-width="2.00"/>
<line x1="148.00" y1="81.00" x2="1442.00" y2="81.00" stroke="#1c1c1c" stroke-width="2.00"/>
<line x1="148.00" y1="729.00" x2="1442.00" y2="729.00" stroke="#1c1c1c" stroke-width="2.00"/>
<line x1="162.00" y1="811.50" x2="1442.00" y2="811.50" stroke="#1c1c1c" stroke-width="2.00"/>
<line x1="148.00" y1="81.00" x2="162.00" y2="81.00" stroke="#1c1c1c" stroke-width="2.00"/>
<line x1="148.00" y1="210.00" x2="162.00" y2="210.00" stroke="#1c1c1c" stroke-width="2.00"/>
<line x1="148.00" y1="340.00" x2="162.00" y2="340.00" stroke="#1c1c1c" stroke-width="2.00"/>
<line x1="148.00" y1="469.50" x2="162.00" y2="469.50" stroke="#1c1c1c" stroke-width="2.00"/>
<line x1="148.00" y1="599.00" x2="162.00" y2="599.00" stroke="#1c1c1c" stroke-width="2.00"/>
<line x1="148.00" y1="729.00" x2="162.00" y2="729.00" stroke="#1c1c1c" stroke-width="2.00"/>
<line x1="162.00" y1="68.00" x2="162.00" y2="81.00" stroke="#1c1c1c" stroke-width="2.00"/>
<line x1="162.00" y1="811.50" x2="162.00" y2="825.00" stroke="#1c1c1c" stroke-width="2.00"/>
<line x1="418.00" y1="68.00" x2="418.00" y2="81.00" stroke="#1c1c1c" stroke-width="2.00"/>
<line x1="418.00" y1="811.50" x2="418.00" y2="825.00" stroke="#1c1c1c" stroke-width="2.00"/>
<line x1="674.00" y1="68.00" x2="674.00" y2="81.00" stroke="#1c1c1c" stroke-width="2.00"/>
<line x1="674.00" y1="811.50" x2="674.00" y2="825.00" stroke="#1c1c1c" stroke-width="2.00"/>
<line x1="930.00" y1="68.00" x2="930.00" y2="81.00" stroke="#1c1c1c" stroke-width="2.00"/>
<line x1="930.00" y1="811.50" x2="930.00" y2="825.00" stroke="#1c1c1c" stroke-width="2.00"/>
<line x1="1186.00" y1="68.00" x2="1186.00" y2="81.00" stroke="#1c1c1c" stroke-width="2.00"/>
<line x1="1186.00" y1="811.50" x2="1186.00" y2="825.00" stroke="#1c1c1c" stroke-width="2.00"/>
<line x1="1442.00" y1="68.00" x2="1442.00" y2="81.00" stroke="#1c1c1c" stroke-width="2.00"/>
<line x1="1442.00" y1="811.50" x2="1442.00" y2="825.00" stroke="#1c1c1c" stroke-width="2.00"/>
</g>
<text x="68.75" y="91.40" font-size="33.00" font-weight="normal" letter-spacing="3.000" fill="#000">2.50</text>
<text x="68.75" y="220.40" font-size="33.00" font-weight="normal" letter-spacing="3.000" fill="#000">2.00</text>
<text x="68.75" y="350.40" font-size="33.00" font-weight="normal" letter-spacing="3.000" fill="#000">1.50</text>
<text x="68.75" y="479.90" font-size="33.00" font-weight="normal" letter-spacing="3.000" fill="#000">1.00</text>
<text x="68.75" y="609.40" font-size="33.00" font-weight="normal" letter-spacing="3.000" fill="#000">0.50</text>
<text x="68.75" y="739.40" font-size="33.00" font-weight="normal" letter-spacing="3.000" fill="#000">0.00</text>
<text x="109.75" y="860.10" font-size="33.00" font-weight="normal" letter-spacing="3.413" fill="#000">-10.00</text>
<text x="376.00" y="860.10" font-size="33.00" font-weight="normal" letter-spacing="3.266" fill="#000">-8.00</text>
<text x="632.70" y="860.10" font-size="33.00" font-weight="normal" letter-spacing="2.916" fill="#000">-6.00</text>
<text x="888.25" y="860.10" font-size="33.00" font-weight="normal" letter-spacing="3.141" fill="#000">-4.00</text>
<text x="1144.45" y="860.10" font-size="33.00" font-weight="normal" letter-spacing="3.041" fill="#000">-2.00</text>
<text x="1406.80" y="860.10" font-size="33.00" font-weight="normal" letter-spacing="3.483" fill="#000">0.00</text>
<text x="708.90" y="897.90" font-size="33.00" font-weight="normal" letter-spacing="2.012" fill="#000">Energy (eV)</text>
<text transform="translate(50.20,521.80) rotate(-90)" x="0" y="0" font-size="33.00" font-weight="normal" letter-spacing="1.476" fill="#000">Density-of-states</text>
<line x1="212.00" y1="127.20" x2="297.50" y2="127.20" stroke="#1a1a1a" stroke-width="2.00"/>
<line x1="212.00" y1="177.90" x2="297.50" y2="177.90" stroke="#ff2020" stroke-width="2.00"/>
<line x1="212.00" y1="228.80" x2="297.50" y2="228.80" stroke="#2020ff" stroke-width="2.00"/>
<text x="331.40" y="140.70" font-size="45.50" font-weight="normal" letter-spacing="1.561" fill="#000">TDOS</text>
<text x="330.10" y="191.70" font-size="45.50" font-weight="normal" letter-spacing="2.495" fill="#000">Nanocage PDOS</text>
<text x="330.10" y="242.40" font-size="45.50" font-weight="normal" letter-spacing="3.016" fill="#000">Fe PDOS</text>
<g fill="none" stroke-width="2.80" stroke-linejoin="round" stroke-linecap="butt" transform="scale(1.450,1)">
<path d="M112.69,1585.0 L114.07,1584.0 L115.45,1582.9 L116.83,1581.7 L118.21,1580.5 L119.59,1579.3 L120.97,1578.0 L122.34,1576.6 L123.72,1575.2 L125.10,1573.8 L126.48,1572.3 L127.86,1570.8 L129.24,1569.3 L130.62,1567.7 L132.00,1566.0 L133.38,1564.3 L134.76,1562.6 L136.14,1560.9 L137.52,1559.1 L138.90,1557.3 L140.28,1555.4 L141.66,1553.6 L143.03,1551.7 L144.41,1549.7 L145.79,1547.8 L147.17,1545.8 L148.55,1543.8 L149.93,1541.7 L151.31,1539.7 L152.69,1537.6 L154.07,1535.5 L155.45,1533.4 L156.83,1531.3 L158.21,1529.1 L159.59,1526.9 L160.97,1524.7 L162.34,1522.5 L163.72,1520.3 L165.10,1518.1 L166.48,1515.9 L167.86,1513.6 L169.24,1511.4 L170.62,1509.1 L172.00,1506.8 L173.38,1504.6 L174.76,1502.3 L176.14,1500.0 L177.52,1497.7 L178.90,1495.5 L180.28,1493.2 L181.66,1490.9 L183.03,1488.6 L184.41,1486.4 L185.79,1484.1 L187.17,1481.8 L188.55,1479.6 L189.93,1477.3 L191.31,1475.1 L192.69,1472.8 L194.07,1470.6 L195.45,1468.3 L196.83,1466.1 L198.21,1463.8 L199.59,1461.6 L200.97,1459.4 L202.34,1457.2 L203.72,1454.9 L205.10,1452.7 L206.48,1450.5 L207.86,1448.3 L209.24,1446.1 L210.62,1443.9 L212.00,1441.7 L213.38,1439.5 L214.76,1437.3 L216.14,1435.2 L217.52,1433.0 L218.90,1430.8 L220.28,1428.6 L221.66,1426.5 L223.03,1424.3 L224.41,1422.2 L225.79,1420.0 L227.17,1417.9 L228.55,1415.8 L229.93,1413.6 L231.31,1411.5 L232.69,1409.4 L234.07,1407.3 L235.45,1405.2 L236.83,1403.1 L238.21,1401.0 L239.59,1398.9 L240.97,1396.8 L242.34,1394.7 L243.72,1392.6 L245.10,1390.5 L246.48,1388.5 L247.86,1386.4 L249.24,1384.4 L250.62,1382.3 L252.00,1380.3 L253.38,1378.3 L254.76,1376.2 L256.14,1374.2 L257.52,1372.2 L258.90,1370.2 L260.28,1368.2 L261.66,1366.2 L263.03,1364.2 L264.41,1362.2 L265.79,1360.2 L267.17,1358.2 L268.55,1356.3 L269.93,1354.3 L271.31,1352.3 L272.69,1350.4 L274.07,1348.4 L275.45,1346.5 L276.83,1344.5 L278.21,1342.6 L279.59,1340.7 L280.97,1338.7 L282.34,1336.8 L283.72,1334.9 L285.10,1332.9 L286.48,1331.0 L287.86,1329.1 L289.24,1327.2 L290.62,1325.2 L292.00,1323.3 L293.38,1321.4 L294.76,1319.5 L296.14,1317.6 L297.52,1315.7 L298.90,1313.8 L300.28,1311.9 L301.66,1310.0 L303.03,1308.0 L304.41,1306.1 L305.79,1304.2 L307.17,1302.3 L308.55,1300.4 L309.93,1298.5 L311.31,1296.6 L312.69,1294.7 L314.07,1292.8 L315.45,1290.9 L316.83,1288.9 L318.21,1287.0 L319.59,1285.1 L320.97,1283.2 L322.34,1281.3 L323.72,1279.3 L325.10,1277.4 L326.48,1275.5 L327.86,1273.6 L329.24,1271.6 L330.62,1269.7 L332.00,1267.7 L333.38,1265.8 L334.76,1263.9 L336.14,1261.9 L337.52,1260.0 L338.90,1258.1 L340.28,1256.2 L341.66,1254.3 L343.03,1252.5 L344.41,1250.6 L345.79,1248.8 L347.17,1247.0 L348.55,1245.3 L349.93,1243.6 L351.31,1241.9 L352.69,1240.2 L354.07,1238.6 L355.45,1237.1 L356.83,1235.5 L358.21,1234.1 L359.59,1232.7 L360.97,1231.3 L362.34,1230.0 L363.72,1228.7 L365.10,1227.5 L366.48,1226.4 L367.86,1225.3 L369.24,1224.3 L370.62,1223.4 L372.00,1222.6 L373.38,1221.8 L374.76,1221.1 L376.14,1220.4 L377.52,1219.9 L378.90,1219.4 L380.28,1219.0 L381.66,1218.7 L383.03,1218.5 L384.41,1218.3 L385.79,1218.3 L387.17,1218.3 L388.55,1218.5 L389.93,1218.7 L391.31,1219.0 L392.69,1219.4 L394.07,1220.0 L395.45,1220.6 L396.83,1221.3 L398.21,1222.1 L399.59,1223.1 L400.97,1224.1 L402.34,1225.3 L403.72,1226.5 L405.10,1227.9 L406.48,1229.4 L407.86,1231.0 L409.24,1232.7 L410.62,1234.6 L412.00,1236.5 L413.38,1238.6 L414.76,1240.7 L416.14,1243.0 L417.52,1245.4 L418.90,1247.8 L420.28,1250.4 L421.66,1253.1 L423.03,1255.8 L424.41,1258.7 L425.79,1261.7 L427.17,1264.7 L428.55,1267.9 L429.93,1271.1 L431.31,1274.4 L432.69,1277.9 L434.07,1281.4 L435.45,1284.9 L436.83,1288.6 L438.21,1292.3 L439.59,1296.2 L440.97,1300.1 L442.34,1304.0 L443.72,1308.1 L445.10,1312.2 L446.48,1316.3 L447.86,1320.5 L449.24,1324.8 L450.62,1329.2 L452.00,1333.5 L453.38,1338.0 L454.76,1342.5 L456.14,1347.0 L457.52,1351.6 L458.90,1356.2 L460.28,1360.8 L461.66,1365.5 L463.03,1370.2 L464.41,1374.9 L465.79,1379.7 L467.17,1384.5 L468.55,1389.3 L469.93,1394.1 L471.31,1398.9 L472.69,1403.7 L474.07,1408.6 L475.45,1413.4 L476.83,1418.3 L478.21,1423.2 L479.59,1428.0 L480.97,1432.9 L482.34,1437.7 L483.72,1442.5 L485.10,1447.3 L486.48,1452.1 L487.86,1456.9 L489.24,1461.7 L490.62,1466.4 L492.00,1471.1 L493.38,1475.7 L494.76,1480.4 L496.14,1485.0 L497.52,1489.5 L498.90,1494.1 L500.28,1498.5 L501.66,1503.0 L503.03,1507.3 L504.41,1511.7 L505.79,1515.9 L507.17,1520.1 L508.55,1524.3 L509.93,1528.4 L511.31,1532.4 L512.69,1536.4 L514.07,1540.2 L515.45,1544.0 L516.83,1547.8 L518.21,1551.4 L519.59,1555.0 L520.97,1558.5 L522.34,1562.0 L523.72,1565.3 L525.10,1568.6 L526.48,1571.9 L527.86,1575.0 L529.24,1578.1 L530.62,1581.2 L532.00,1584.1 L533.38,1587.0 L534.76,1589.8 L536.14,1592.6 L537.52,1595.2 L538.90,1597.8 L540.28,1600.4 L541.66,1602.9 L543.03,1605.3 L544.41,1607.6 L545.79,1609.9 L547.17,1612.1 L548.55,1614.3 L549.93,1616.4 L551.31,1618.4 L552.69,1620.3 L554.07,1622.2 L555.45,1624.1 L556.83,1625.8 L558.21,1627.5 L559.59,1629.2 L560.97,1630.8 L562.34,1632.3 L563.72,1633.8 L565.10,1635.2 L566.48,1636.5 L567.86,1637.8 L569.24,1639.1 L570.62,1640.3 L572.00,1641.4 L573.38,1642.5 L574.76,1643.6 L576.14,1644.6 L577.52,1645.6 L578.90,1646.5 L580.28,1647.4 L581.66,1648.2 L583.03,1649.0 L584.41,1649.7 L585.79,1650.4 L587.17,1651.1 L588.55,1651.8 L589.93,1652.4 L591.31,1652.9 L592.69,1653.5 L594.07,1654.0 L595.45,1654.4 L596.83,1654.9 L598.21,1655.3 L599.59,1655.7 L600.97,1656.0 L602.34,1656.4 L603.72,1656.7 L605.10,1656.9 L606.48,1657.2 L607.86,1657.4 L609.24,1657.6 L610.62,1657.8 L612.00,1658.0 L613.38,1658.1 L614.76,1658.2 L616.14,1658.3 L617.52,1658.4 L618.90,1658.5 L620.28,1658.5 L621.66,1658.6 L623.03,1658.6 L624.41,1658.6 L625.79,1658.6 L627.17,1658.6 L628.55,1658.5 L629.93,1658.5 L631.31,1658.5 L632.69,1658.4 L634.07,1658.3 L635.45,1658.3 L636.83,1658.2 L638.21,1658.1 L639.59,1658.1 L640.97,1658.0 L642.34,1657.9 L643.72,1657.8 L645.10,1657.7 L646.48,1657.6 L647.86,1657.5 L649.24,1657.5 L650.62,1657.4 L652.00,1657.3 L653.38,1657.2 L654.76,1657.1 L656.14,1657.1 L657.52,1657.0 L658.90,1656.9 L660.28,1656.9 L661.66,1656.8 L663.03,1656.7 L664.41,1656.7 L665.79,1656.6 L667.17,1656.5 L668.55,1656.5 L669.93,1656.4 L671.31,1656.4 L672.69,1656.3 L674.07,1656.3 L675.45,1656.3 L676.83,1656.2 L678.21,1656.2 L679.59,1656.2 L680.97,1656.1 L682.34,1656.1 L683.72,1656.1 L685.10,1656.1 L686.48,1656.0 L687.86,1656.0 L689.24,1656.0 L690.62,1656.0 L692.00,1656.0 L693.38,1656.0 L694.76,1656.0 L696.14,1656.0 L697.52,1656.0 L698.90,1656.0 L700.28,1656.1 L701.66,1656.1 L703.03,1656.1 L704.41,1656.1 L705.79,1656.2 L707.17,1656.2 L708.55,1656.3 L709.93,1656.3 L711.31,1656.4 L712.69,1656.4 L714.07,1656.5 L715.45,1656.5 L716.83,1656.6 L718.21,1656.7 L719.59,1656.8 L720.97,1656.8 L722.34,1656.9 L723.72,1657.0 L725.10,1657.1 L726.48,1657.2 L727.86,1657.3 L729.24,1657.4 L730.62,1657.6 L732.00,1657.7 L733.38,1657.8 L734.76,1657.9 L736.14,1658.1 L737.52,1658.2 L738.90,1658.4 L740.28,1658.5 L741.66,1658.7 L743.03,1658.8 L744.41,1659.0 L745.79,1659.2 L747.17,1659.4 L748.55,1659.5 L749.93,1659.7 L751.31,1659.9 L752.69,1660.1 L754.07,1660.3 L755.45,1660.5 L756.83,1660.7 L758.21,1660.9 L759.59,1661.1 L760.97,1661.3 L762.34,1661.5 L763.72,1661.8 L765.10,1662.0 L766.48,1662.2 L767.86,1662.4 L769.24,1662.6 L770.62,1662.9 L772.00,1663.1 L773.38,1663.3 L774.76,1663.6 L776.14,1663.8 L777.52,1664.0 L778.90,1664.3 L780.28,1664.5 L781.66,1664.7 L783.03,1665.0 L784.41,1665.2 L785.79,1665.4 L787.17,1665.7 L788.55,1665.9 L789.93,1666.2 L791.31,1666.4 L792.69,1666.6 L794.07,1666.9 L795.45,1667.1 L796.83,1667.3 L798.21,1667.6 L799.59,1667.8 L800.97,1668.0 L802.34,1668.3 L803.72,1668.5 L805.10,1668.7 L806.48,1668.9 L807.86,1669.2 L809.24,1669.4 L810.62,1669.6 L812.00,1669.8 L813.38,1670.0 L814.76,1670.2 L816.14,1670.4 L817.52,1670.6 L818.90,1670.8 L820.28,1671.0 L821.66,1671.2 L823.03,1671.4 L824.41,1671.6 L825.79,1671.8 L827.17,1671.9 L828.55,1672.1 L829.93,1672.3 L831.31,1672.5 L832.69,1672.6 L834.07,1672.8 L835.45,1672.9 L836.83,1673.1 L838.21,1673.2 L839.59,1673.3 L840.97,1673.5 L842.34,1673.6 L843.72,1673.7 L845.10,1673.8 L846.48,1673.9 L847.86,1674.0 L849.24,1674.1 L850.62,1674.2 L852.00,1674.3 L853.38,1674.3 L854.76,1674.4 L856.14,1674.5 L857.52,1674.5 L858.90,1674.5 L860.28,1674.6 L861.66,1674.6 L863.03,1674.6 L864.41,1674.6 L865.79,1674.6 L867.17,1674.6 L868.55,1674.6 L869.93,1674.6 L871.31,1674.6 L872.69,1674.5 L874.07,1674.5 L875.45,1674.4 L876.83,1674.3 L878.21,1674.3 L879.59,1674.2 L880.97,1674.1 L882.34,1674.0 L883.72,1673.9 L885.10,1673.7 L886.48,1673.6 L887.86,1673.4 L889.24,1673.3 L890.62,1673.1 L892.00,1672.9 L893.38,1672.7 L894.76,1672.5 L896.14,1672.3 L897.52,1672.1 L898.90,1671.9 L900.28,1671.6 L901.66,1671.4 L903.03,1671.1 L904.41,1670.8 L905.79,1670.5 L907.17,1670.2 L908.55,1669.9 L909.93,1669.5 L911.31,1669.2 L912.69,1668.8 L914.07,1668.4 L915.45,1668.1 L916.83,1667.7 L918.21,1667.2 L919.59,1666.8 L920.97,1666.4 L922.34,1665.9 L923.72,1665.4 L925.10,1665.0 L926.48,1664.5 L927.86,1663.9 L929.24,1663.4 L930.62,1662.9 L932.00,1662.3 L933.38,1661.7 L934.76,1661.1 L936.14,1660.5 L937.52,1659.9 L938.90,1659.3 L940.28,1658.6 L941.66,1657.9 L943.03,1657.3 L944.41,1656.6 L945.79,1655.8 L947.17,1655.1 L948.55,1654.3 L949.93,1653.6 L951.31,1652.8 L952.69,1652.0 L954.07,1651.2 L955.45,1650.3 L956.83,1649.5 L958.21,1648.6 L959.59,1647.7 L960.97,1646.8 L962.34,1645.9 L963.72,1644.9 L965.10,1643.9 L966.48,1643.0 L967.86,1642.0 L969.24,1640.9 L970.62,1639.9 L972.00,1638.8 L973.38,1637.7 L974.76,1636.6 L976.14,1635.5 L977.52,1634.4 L978.90,1633.2 L980.28,1632.0 L981.66,1630.8 L983.03,1629.6 L984.41,1628.4 L985.79,1627.1 L987.17,1625.8 L987.24,1625.8" stroke="#000"/>
<path d="M112.41,1672.6 L113.79,1672.8 L115.17,1672.9 L116.55,1673.1 L117.93,1673.3 L119.31,1673.5 L120.69,1673.6 L122.07,1673.8 L123.45,1673.9 L124.83,1674.0 L126.21,1674.1 L127.59,1674.2 L128.97,1674.4 L130.34,1674.4 L131.72,1674.5 L133.10,1674.6 L134.48,1674.7 L135.86,1674.7 L137.24,1674.8 L138.62,1674.8 L140.00,1674.9 L141.38,1674.9 L142.76,1674.9 L144.14,1675.0 L145.52,1675.0 L146.90,1675.0 L148.28,1675.0 L149.66,1674.9 L151.03,1674.9 L152.41,1674.9 L153.79,1674.9 L155.17,1674.8 L156.55,1674.8 L157.93,1674.7 L159.31,1674.7 L160.69,1674.6 L162.07,1674.5 L163.45,1674.4 L164.83,1674.3 L166.21,1674.2 L167.59,1674.1 L168.97,1674.0 L170.34,1673.9 L171.72,1673.8 L173.10,1673.7 L174.48,1673.5 L175.86,1673.4 L177.24,1673.2 L178.62,1673.1 L180.00,1672.9 L181.38,1672.8 L182.76,1672.6 L184.14,1672.4 L185.52,1672.2 L186.90,1672.0 L188.28,1671.8 L189.66,1671.6 L191.03,1671.4 L192.41,1671.2 L193.79,1671.0 L195.17,1670.8 L196.55,1670.6 L197.93,1670.3 L199.31,1670.1 L200.69,1669.9 L202.07,1669.6 L203.45,1669.4 L204.83,1669.1 L206.21,1668.8 L207.59,1668.6 L208.97,1668.3 L210.34,1668.0 L211.72,1667.8 L213.10,1667.5 L214.48,1667.2 L215.86,1666.9 L217.24,1666.6 L218.62,1666.3 L220.00,1666.0 L221.38,1665.7 L222.76,1665.4 L224.14,1665.1 L225.52,1664.8 L226.90,1664.5 L228.28,1664.2 L229.66,1663.9 L231.03,1663.6 L232.41,1663.2 L233.79,1662.9 L235.17,1662.6 L236.55,1662.3 L237.93,1662.0 L239.31,1661.6 L240.69,1661.3 L242.07,1661.0 L243.45,1660.7 L244.83,1660.3 L246.21,1660.0 L247.59,1659.7 L248.97,1659.4 L250.34,1659.0 L251.72,1658.7 L253.10,1658.4 L254.48,1658.1 L255.86,1657.8 L257.24,1657.4 L258.62,1657.1 L260.00,1656.8 L261.38,1656.5 L262.76,1656.2 L264.14,1655.9 L265.52,1655.5 L266.90,1655.2 L268.28,1654.9 L269.66,1654.6 L271.03,1654.3 L272.41,1654.0 L273.79,1653.7 L275.17,1653.4 L276.55,1653.1 L277.93,1652.9 L279.31,1652.6 L280.69,1652.3 L282.07,1652.0 L283.45,1651.7 L284.83,1651.5 L286.21,1651.2 L287.59,1650.9 L288.97,1650.7 L290.34,1650.4 L291.72,1650.2 L293.10,1649.9 L294.48,1649.7 L295.86,1649.5 L297.24,1649.2 L298.62,1649.0 L300.00,1648.8 L301.38,1648.6 L302.76,1648.4 L304.14,1648.2 L305.52,1648.0 L306.90,1647.8 L308.28,1647.6 L309.66,1647.4 L311.03,1647.2 L312.41,1647.1 L313.79,1646.9 L315.17,1646.8 L316.55,1646.6 L317.93,1646.5 L319.31,1646.3 L320.69,1646.2 L322.07,1646.1 L323.45,1646.0 L324.83,1645.9 L326.21,1645.8 L327.59,1645.7 L328.97,1645.6 L330.34,1645.5 L331.72,1645.4 L333.10,1645.4 L334.48,1645.3 L335.86,1645.3 L337.24,1645.2 L338.62,1645.2 L340.00,1645.2 L341.38,1645.2 L342.76,1645.2 L344.14,1645.2 L345.52,1645.2 L346.90,1645.2 L348.28,1645.2 L349.66,1645.3 L351.03,1645.3 L352.41,1645.4 L353.79,1645.5 L355.17,1645.5 L356.55,1645.6 L357.93,1645.7 L359.31,1645.8 L360.69,1645.9 L362.07,1646.1 L363.45,1646.2 L364.83,1646.3 L366.21,1646.5 L367.59,1646.6 L368.97,1646.8 L370.34,1647.0 L371.72,1647.2 L373.10,1647.3 L374.48,1647.5 L375.86,1647.7 L377.24,1647.9 L378.62,1648.2 L380.00,1648.4 L381.38,1648.6 L382.76,1648.8 L384.14,1649.1 L385.52,1649.3 L386.90,1649.5 L388.28,1649.8 L389.66,1650.0 L391.03,1650.3 L392.41,1650.6 L393.79,1650.8 L395.17,1651.1 L396.55,1651.4 L397.93,1651.7 L399.31,1651.9 L400.69,1652.2 L402.07,1652.5 L403.45,1652.8 L404.83,1653.1 L406.21,1653.4 L407.59,1653.7 L408.97,1654.0 L410.34,1654.3 L411.72,1654.6 L413.10,1654.9 L414.48,1655.2 L415.86,1655.6 L417.24,1655.9 L418.62,1656.2 L420.00,1656.5 L421.38,1656.8 L422.76,1657.1 L424.14,1657.4 L425.52,1657.8 L426.90,1658.1 L428.28,1658.4 L429.66,1658.7 L431.03,1659.0 L432.41,1659.3 L433.79,1659.6 L435.17,1660.0 L436.55,1660.3 L437.93,1660.6 L439.31,1660.9 L440.69,1661.2 L442.07,1661.5 L443.45,1661.8 L444.83,1662.1 L446.21,1662.4 L447.59,1662.7 L448.97,1663.0 L450.34,1663.3 L451.72,1663.6 L453.10,1663.9 L454.48,1664.2 L455.86,1664.5 L457.24,1664.8 L458.62,1665.1 L460.00,1665.4 L461.38,1665.7 L462.76,1665.9 L464.14,1666.2 L465.52,1666.5 L466.90,1666.8 L468.28,1667.0 L469.66,1667.3 L471.03,1667.6 L472.41,1667.8 L473.79,1668.1 L475.17,1668.3 L476.55,1668.6 L477.93,1668.8 L479.31,1669.1 L480.69,1669.3 L482.07,1669.5 L483.45,1669.8 L484.83,1670.0 L486.21,1670.2 L487.59,1670.4 L488.97,1670.7 L490.34,1670.9 L491.72,1671.1 L493.10,1671.3 L494.48,1671.5 L495.86,1671.6 L497.24,1671.8 L498.62,1672.0 L500.00,1672.2 L501.38,1672.3 L502.76,1672.5 L504.14,1672.7 L505.52,1672.8 L506.90,1673.0 L508.28,1673.1 L509.66,1673.2 L511.03,1673.4 L512.41,1673.5 L513.79,1673.6 L515.17,1673.7 L516.55,1673.8 L517.93,1673.9 L519.31,1674.0 L520.69,1674.1 L522.07,1674.2 L523.45,1674.2 L524.83,1674.3 L526.21,1674.3 L527.59,1674.4 L528.97,1674.4 L530.34,1674.5 L531.72,1674.5 L533.10,1674.5 L534.48,1674.5 L535.86,1674.5 L537.24,1674.5 L538.62,1674.5 L540.00,1674.5 L541.38,1674.5 L542.76,1674.4 L544.14,1674.4 L545.52,1674.4 L546.90,1674.3 L548.28,1674.3 L549.66,1674.2 L551.03,1674.1 L552.41,1674.1 L553.79,1674.0 L555.17,1673.9 L556.55,1673.8 L557.93,1673.8 L559.31,1673.7 L560.69,1673.6 L562.07,1673.5 L563.45,1673.4 L564.83,1673.3 L566.21,1673.2 L567.59,1673.1 L568.97,1673.0 L570.34,1672.9 L571.72,1672.7 L573.10,1672.6 L574.48,1672.5 L575.86,1672.4 L577.24,1672.3 L578.62,1672.2 L580.00,1672.0 L581.38,1671.9 L582.76,1671.8 L584.14,1671.7 L585.52,1671.5 L586.90,1671.4 L588.28,1671.3 L589.66,1671.2 L591.03,1671.0 L592.41,1670.9 L593.79,1670.8 L595.17,1670.7 L596.55,1670.6 L597.93,1670.5 L599.31,1670.3 L600.69,1670.2 L602.07,1670.1 L603.45,1670.0 L604.83,1669.9 L606.21,1669.8 L607.59,1669.7 L608.97,1669.6 L610.34,1669.5 L611.72,1669.4 L613.10,1669.3 L614.48,1669.2 L615.86,1669.2 L617.24,1669.1 L618.62,1669.0 L620.00,1668.9 L621.38,1668.9 L622.76,1668.8 L624.14,1668.8 L625.52,1668.7 L626.90,1668.7 L628.28,1668.7 L629.66,1668.6 L631.03,1668.6 L632.41,1668.6 L633.79,1668.5 L635.17,1668.5 L636.55,1668.5 L637.93,1668.5 L639.31,1668.5 L640.69,1668.5 L642.07,1668.5 L643.45,1668.5 L644.83,1668.5 L646.21,1668.6 L647.59,1668.6 L648.97,1668.6 L650.34,1668.6 L651.72,1668.7 L653.10,1668.7 L654.48,1668.7 L655.86,1668.8 L657.24,1668.8 L658.62,1668.9 L660.00,1668.9 L661.38,1669.0 L662.76,1669.0 L664.14,1669.1 L665.52,1669.2 L666.90,1669.2 L668.28,1669.3 L669.66,1669.4 L671.03,1669.4 L672.41,1669.5 L673.79,1669.6 L675.17,1669.7 L676.55,1669.8 L677.93,1669.8 L679.31,1669.9 L680.69,1670.0 L682.07,1670.1 L683.45,1670.2 L684.83,1670.3 L686.21,1670.4 L687.59,1670.5 L688.97,1670.6 L690.34,1670.7 L691.72,1670.8 L693.10,1670.9 L694.48,1671.1 L695.86,1671.2 L697.24,1671.3 L698.62,1671.4 L700.00,1671.5 L701.38,1671.6 L702.76,1671.8 L704.14,1671.9 L705.52,1672.0 L706.90,1672.1 L708.28,1672.2 L709.66,1672.4 L711.03,1672.5 L712.41,1672.6 L713.79,1672.7 L715.17,1672.9 L716.55,1673.0 L717.93,1673.1 L719.31,1673.3 L720.69,1673.4 L722.07,1673.5 L723.45,1673.7 L724.83,1673.8 L726.21,1673.9 L727.59,1674.1 L728.97,1674.2 L730.34,1674.3 L731.72,1674.4 L733.10,1674.6 L734.48,1674.7 L735.86,1674.8 L737.24,1675.0 L738.62,1675.1 L740.00,1675.2 L741.38,1675.4 L742.76,1675.5 L744.14,1675.6 L745.52,1675.8 L746.90,1675.9 L748.28,1676.0 L749.66,1676.1 L751.03,1676.3 L752.41,1676.4 L753.79,1676.5 L755.17,1676.6 L756.55,1676.7 L757.93,1676.9 L759.31,1677.0 L760.69,1677.1 L762.07,1677.2 L763.45,1677.3 L764.83,1677.4 L766.21,1677.6 L767.59,1677.7 L768.97,1677.8 L770.34,1677.9 L771.72,1678.0 L773.10,1678.1 L774.48,1678.2 L775.86,1678.3 L777.24,1678.4 L778.62,1678.5 L780.00,1678.6 L781.38,1678.7 L782.76,1678.7 L784.14,1678.8 L785.52,1678.9 L786.90,1679.0 L788.28,1679.1 L789.66,1679.1 L791.03,1679.2 L792.41,1679.3 L793.79,1679.3 L795.17,1679.4 L796.55,1679.5 L797.93,1679.5 L799.31,1679.6 L800.69,1679.6 L802.07,1679.7 L803.45,1679.7 L804.83,1679.8 L806.21,1679.8 L807.59,1679.8 L808.97,1679.9 L810.34,1679.9 L811.72,1679.9 L813.10,1679.9 L814.48,1680.0 L815.86,1680.0 L817.24,1680.0 L818.62,1680.0 L820.00,1680.0 L821.38,1680.0 L822.76,1680.0 L824.14,1680.0 L825.52,1680.0 L826.90,1679.9" stroke="#ff0000"/>
<path d="M920.34,1679.7 L961.93,1679.7 L962.76,1677.4 L983.45,1677.4 L984.83,1676.2 L986.90,1676.2" stroke="#ff0000"/>
</g>
<line x1="169.00" y1="1695.60" x2="169.00" y2="1763.30" stroke="#111" stroke-width="2.00"/>
<line x1="169.00" y1="1759.70" x2="169.00" y2="1763.30" stroke="#ff1a1a" stroke-width="2.00"/>
<line x1="216.50" y1="1695.60" x2="216.50" y2="1763.30" stroke="#111" stroke-width="2.00"/>
<line x1="216.50" y1="1761.10" x2="216.50" y2="1763.30" stroke="#ff1a1a" stroke-width="2.00"/>
<line x1="278.70" y1="1695.60" x2="278.70" y2="1763.30" stroke="#111" stroke-width="2.00"/>
<line x1="280.50" y1="1695.60" x2="280.50" y2="1763.30" stroke="#111" stroke-width="2.00"/>
<line x1="285.80" y1="1695.60" x2="285.80" y2="1763.30" stroke="#111" stroke-width="2.00"/>
<line x1="290.50" y1="1695.60" x2="290.50" y2="1763.30" stroke="#111" stroke-width="2.00"/>
<line x1="292.00" y1="1695.60" x2="292.00" y2="1763.30" stroke="#111" stroke-width="2.00"/>
<line x1="292.00" y1="1761.10" x2="292.00" y2="1763.30" stroke="#ff1a1a" stroke-width="2.00"/>
<line x1="301.80" y1="1695.60" x2="301.80" y2="1763.30" stroke="#111" stroke-width="2.00"/>
<line x1="339.80" y1="1695.60" x2="339.80" y2="1763.30" stroke="#111" stroke-width="2.00"/>
<line x1="339.80" y1="1756.10" x2="339.80" y2="1763.30" stroke="#ff1a1a" stroke-width="2.00"/>
<line x1="350.90" y1="1695.60" x2="350.90" y2="1763.30" stroke="#111" stroke-width="2.00"/>
<line x1="369.60" y1="1695.60" x2="369.60" y2="1763.30" stroke="#111" stroke-width="2.00"/>
<line x1="371.00" y1="1695.60" x2="371.00" y2="1763.30" stroke="#111" stroke-width="2.00"/>
<line x1="393.30" y1="1695.60" x2="393.30" y2="1763.30" stroke="#111" stroke-width="2.00"/>
<line x1="393.30" y1="1759.70" x2="393.30" y2="1763.30" stroke="#ff1a1a" stroke-width="2.00"/>
<line x1="397.60" y1="1695.60" x2="397.60" y2="1763.30" stroke="#111" stroke-width="2.00"/>
<line x1="397.60" y1="1759.70" x2="397.60" y2="1763.30" stroke="#ff1a1a" stroke-width="2.00"/>
<line x1="399.00" y1="1695.60" x2="399.00" y2="1763.30" stroke="#111" stroke-width="2.00"/>
<line x1="402.60" y1="1695.60" x2="402.60" y2="1763.30" stroke="#111" stroke-width="2.00"/>
<line x1="404.00" y1="1695.60" x2="404.00" y2="1763.30" stroke="#111" stroke-width="2.00"/>
<line x1="404.00" y1="1753.70" x2="404.00" y2="1763.30" stroke="#ff1a1a" stroke-width="2.00"/>
<line x1="414.00" y1="1695.60" x2="414.00" y2="1763.30" stroke="#111" stroke-width="2.00"/>
<line x1="429.80" y1="1695.60" x2="429.80" y2="1763.30" stroke="#111" stroke-width="2.00"/>
<line x1="429.80" y1="1744.10" x2="429.80" y2="1763.30" stroke="#ff1a1a" stroke-width="2.00"/>
<line x1="434.40" y1="1695.60" x2="434.40" y2="1763.30" stroke="#111" stroke-width="2.00"/>
<line x1="434.40" y1="1703.00" x2="434.40" y2="1763.30" stroke="#ff1a1a" stroke-width="2.00"/>
<line x1="439.00" y1="1695.60" x2="439.00" y2="1763.30" stroke="#111" stroke-width="2.00"/>
<line x1="439.00" y1="1736.10" x2="439.00" y2="1763.30" stroke="#ff1a1a" stroke-width="2.00"/>
<line x1="446.80" y1="1695.60" x2="446.80" y2="1763.30" stroke="#111" stroke-width="2.00"/>
<line x1="446.80" y1="1755.10" x2="446.80" y2="1763.30" stroke="#ff1a1a" stroke-width="2.00"/>
<line x1="462.60" y1="1695.60" x2="462.60" y2="1763.30" stroke="#111" stroke-width="2.00"/>
<line x1="479.90" y1="1695.60" x2="479.90" y2="1763.30" stroke="#111" stroke-width="2.00"/>
<line x1="484.80" y1="1695.60" x2="484.80" y2="1763.30" stroke="#111" stroke-width="2.00"/>
<line x1="511.20" y1="1695.60" x2="511.20" y2="1763.30" stroke="#111" stroke-width="2.00"/>
<line x1="511.20" y1="1744.20" x2="511.20" y2="1763.30" stroke="#ff1a1a" stroke-width="2.00"/>
<line x1="516.00" y1="1695.60" x2="516.00" y2="1763.30" stroke="#111" stroke-width="2.00"/>
<line x1="516.00" y1="1745.60" x2="516.00" y2="1763.30" stroke="#ff1a1a" stroke-width="2.00"/>
<line x1="535.80" y1="1695.60" x2="535.80" y2="1763.30" stroke="#111" stroke-width="2.00"/>
<line x1="535.80" y1="1761.60" x2="535.80" y2="1763.30" stroke="#ff1a1a" stroke-width="2.00"/>
<line x1="537.50" y1="1695.60" x2="537.50" y2="1763.30" stroke="#111" stroke-width="2.00"/>
<line x1="541.20" y1="1695.60" x2="541.20" y2="1763.30" stroke="#111" stroke-width="2.00"/>
<line x1="541.20" y1="1753.80" x2="541.20" y2="1763.30" stroke="#ff1a1a" stroke-width="2.00"/>
<line x1="544.10" y1="1695.60" x2="544.10" y2="1763.30" stroke="#111" stroke-width="2.00"/>
<line x1="548.00" y1="1695.60" x2="548.00" y2="1763.30" stroke="#111" stroke-width="2.00"/>
<line x1="552.50" y1="1695.60" x2="552.50" y2="1763.30" stroke="#111" stroke-width="2.00"/>
<line x1="552.50" y1="1745.60" x2="552.50" y2="1763.30" stroke="#ff1a1a" stroke-width="2.00"/>
<line x1="558.60" y1="1695.60" x2="558.60" y2="1763.30" stroke="#111" stroke-width="2.00"/>
<line x1="558.60" y1="1761.60" x2="558.60" y2="1763.30" stroke="#ff1a1a" stroke-width="2.00"/>
<line x1="560.20" y1="1695.60" x2="560.20" y2="1763.30" stroke="#111" stroke-width="2.00"/>
<line x1="566.70" y1="1695.60" x2="566.70" y2="1763.30" stroke="#111" stroke-width="2.00"/>
<line x1="574.50" y1="1695.60" x2="574.50" y2="1763.30" stroke="#111" stroke-width="2.00"/>
<line x1="574.50" y1="1761.60" x2="574.50" y2="1763.30" stroke="#ff1a1a" stroke-width="2.00"/>
<line x1="577.60" y1="1695.60" x2="577.60" y2="1763.30" stroke="#111" stroke-width="2.00"/>
<line x1="577.60" y1="1704.30" x2="577.60" y2="1763.30" stroke="#ff1a1a" stroke-width="2.00"/>
<line x1="583.70" y1="1695.60" x2="583.70" y2="1763.30" stroke="#111" stroke-width="2.00"/>
<line x1="583.70" y1="1758.40" x2="583.70" y2="1763.30" stroke="#ff1a1a" stroke-width="2.00"/>
<line x1="587.00" y1="1695.60" x2="587.00" y2="1763.30" stroke="#111" stroke-width="2.00"/>
<line x1="587.00" y1="1755.00" x2="587.00" y2="1763.30" stroke="#ff1a1a" stroke-width="2.00"/>
<line x1="596.30" y1="1695.60" x2="596.30" y2="1763.30" stroke="#111" stroke-width="2.00"/>
<line x1="598.00" y1="1695.60" x2="598.00" y2="1763.30" stroke="#111" stroke-width="2.00"/>
<line x1="602.60" y1="1695.60" x2="602.60" y2="1763.30" stroke="#111" stroke-width="2.00"/>
<line x1="604.40" y1="1695.60" x2="604.40" y2="1763.30" stroke="#111" stroke-width="2.00"/>
<line x1="611.00" y1="1695.60" x2="611.00" y2="1763.30" stroke="#111" stroke-width="2.00"/>
<line x1="611.00" y1="1756.40" x2="611.00" y2="1763.30" stroke="#ff1a1a" stroke-width="2.00"/>
<line x1="656.60" y1="1695.60" x2="656.60" y2="1763.30" stroke="#111" stroke-width="2.00"/>
<line x1="660.10" y1="1695.60" x2="660.10" y2="1763.30" stroke="#111" stroke-width="2.00"/>
<line x1="668.70" y1="1695.60" x2="668.70" y2="1763.30" stroke="#111" stroke-width="2.00"/>
<line x1="672.60" y1="1695.60" x2="672.60" y2="1763.30" stroke="#111" stroke-width="2.00"/>
<line x1="910.90" y1="1695.60" x2="910.90" y2="1763.30" stroke="#ff1a1a" stroke-width="2.00"/>
<line x1="1024.00" y1="1695.60" x2="1024.00" y2="1763.30" stroke="#111" stroke-width="2.00"/>
<line x1="1024.00" y1="1744.20" x2="1024.00" y2="1763.30" stroke="#ff1a1a" stroke-width="2.00"/>
<line x1="1086.90" y1="1695.60" x2="1086.90" y2="1763.30" stroke="#111" stroke-width="2.00"/>
<g stroke="#1c1c1c" stroke-width="2">
<line x1="163.00" y1="1026.70" x2="163.00" y2="1777.40" stroke="#1c1c1c" stroke-width="2.00"/>
<line x1="1432.40" y1="1026.70" x2="1432.40" y2="1777.40" stroke="#1c1c1c" stroke-width="2.00"/>
<line x1="149.70" y1="1039.70" x2="1444.00" y2="1039.70" stroke="#1c1c1c" stroke-width="2.00"/>
<line x1="149.70" y1="1681.90" x2="1444.00" y2="1681.90" stroke="#1c1c1c" stroke-width="2.00"/>
<line x1="163.00" y1="1763.70" x2="1432.40" y2="1763.70" stroke="#1c1c1c" stroke-width="2.00"/>
<line x1="149.70" y1="1039.70" x2="163.00" y2="1039.70" stroke="#1c1c1c" stroke-width="2.00"/>
<line x1="1432.40" y1="1039.70" x2="1444.00" y2="1039.70" stroke="#1c1c1c" stroke-width="2.00"/>
<line x1="149.70" y1="1200.20" x2="163.00" y2="1200.20" stroke="#1c1c1c" stroke-width="2.00"/>
<line x1="1432.40" y1="1200.20" x2="1444.00" y2="1200.20" stroke="#1c1c1c" stroke-width="2.00"/>
<line x1="149.70" y1="1360.80" x2="163.00" y2="1360.80" stroke="#1c1c1c" stroke-width="2.00"/>
<line x1="1432.40" y1="1360.80" x2="1444.00" y2="1360.80" stroke="#1c1c1c" stroke-width="2.00"/>
<line x1="149.70" y1="1521.30" x2="163.00" y2="1521.30" stroke="#1c1c1c" stroke-width="2.00"/>
<line x1="1432.40" y1="1521.30" x2="1444.00" y2="1521.30" stroke="#1c1c1c" stroke-width="2.00"/>
<line x1="149.70" y1="1681.90" x2="163.00" y2="1681.90" stroke="#1c1c1c" stroke-width="2.00"/>
<line x1="1432.40" y1="1681.90" x2="1444.00" y2="1681.90" stroke="#1c1c1c" stroke-width="2.00"/>
<line x1="163.00" y1="1026.70" x2="163.00" y2="1039.70" stroke="#1c1c1c" stroke-width="2.00"/>
<line x1="163.00" y1="1763.70" x2="163.00" y2="1777.40" stroke="#1c1c1c" stroke-width="2.00"/>
<line x1="480.40" y1="1026.70" x2="480.40" y2="1039.70" stroke="#1c1c1c" stroke-width="2.00"/>
<line x1="480.40" y1="1763.70" x2="480.40" y2="1777.40" stroke="#1c1c1c" stroke-width="2.00"/>
<line x1="797.70" y1="1026.70" x2="797.70" y2="1039.70" stroke="#1c1c1c" stroke-width="2.00"/>
<line x1="797.70" y1="1763.70" x2="797.70" y2="1777.40" stroke="#1c1c1c" stroke-width="2.00"/>
<line x1="1115.00" y1="1026.70" x2="1115.00" y2="1039.70" stroke="#1c1c1c" stroke-width="2.00"/>
<line x1="1115.00" y1="1763.70" x2="1115.00" y2="1777.40" stroke="#1c1c1c" stroke-width="2.00"/>
<line x1="1432.40" y1="1026.70" x2="1432.40" y2="1039.70" stroke="#1c1c1c" stroke-width="2.00"/>
<line x1="1432.40" y1="1763.70" x2="1432.40" y2="1777.40" stroke="#1c1c1c" stroke-width="2.00"/>
</g>
<text x="70.65" y="1050.10" font-size="33.00" font-weight="normal" letter-spacing="3.000" fill="#000">4.00</text>
<text x="70.65" y="1210.60" font-size="33.00" font-weight="normal" letter-spacing="3.000" fill="#000">3.00</text>
<text x="70.65" y="1371.20" font-size="33.00" font-weight="normal" letter-spacing="3.000" fill="#000">2.00</text>
<text x="70.65" y="1531.70" font-size="33.00" font-weight="normal" letter-spacing="3.000" fill="#000">1.00</text>
<text x="70.65" y="1692.30" font-size="33.00" font-weight="normal" letter-spacing="3.000" fill="#000">0.00</text>
<text x="111.90" y="1811.60" font-size="33.00" font-weight="normal" letter-spacing="2.993" fill="#000">-10.00</text>
<text x="438.65" y="1811.60" font-size="33.00" font-weight="normal" letter-spacing="3.191" fill="#000">-8.00</text>
<text x="755.90" y="1811.60" font-size="33.00" font-weight="normal" letter-spacing="3.216" fill="#000">-6.00</text>
<text x="1073.40" y="1811.60" font-size="33.00" font-weight="normal" letter-spacing="3.116" fill="#000">-4.00</text>
<text x="1391.00" y="1811.60" font-size="33.00" font-weight="normal" letter-spacing="3.016" fill="#000">-2.00</text>
<text x="705.50" y="1850.40" font-size="33.00" font-weight="normal" letter-spacing="1.882" fill="#000">Energy (eV)</text>
<text transform="translate(52.00,1489.90) rotate(-90)" x="0" y="0" font-size="33.00" font-weight="normal" letter-spacing="2.189" fill="#000">Density-of-states</text>
<line x1="213.00" y1="1084.90" x2="298.00" y2="1084.90" stroke="#111" stroke-width="2.00"/>
<line x1="213.00" y1="1135.40" x2="298.00" y2="1135.40" stroke="#ff1a1a" stroke-width="2.00"/>
<text x="330.70" y="1098.00" font-size="45.50" font-weight="normal" letter-spacing="1.261" fill="#000">TDOS</text>
<text x="330.10" y="1147.80" font-size="45.50" font-weight="normal" letter-spacing="2.756" fill="#000">Fe d-orbitals PDOS</text>
</svg>
</body></html>
